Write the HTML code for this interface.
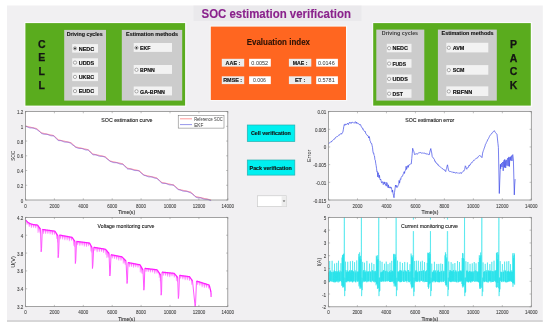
<!DOCTYPE html>
<html><head><meta charset="utf-8"><title>SOC estimation verification</title>
<style>html,body{margin:0;padding:0;background:#fff;}body{width:550px;height:330px;overflow:hidden;}svg{display:block;filter:blur(0.3px);}</style>
</head><body>
<svg width="550" height="330" viewBox="0 0 550 330" font-family="'Liberation Sans', Arial, sans-serif"><rect x="0.00" y="0.00" width="550.00" height="330.00" fill="#ffffff" />
<rect x="7.00" y="5.50" width="535.80" height="315.80" fill="#f1f0f2" />
<line x1="7" y1="321.2" x2="542.8" y2="321.2" stroke="#8a8a8a" stroke-width="0.8"/>
<rect x="193.50" y="5.60" width="168.00" height="15.40" fill="#eae9ec" />
<text x="201.50" y="17.50" font-size="12.1" fill="#8a228c" font-weight="bold" text-anchor="start" stroke="#8a228c" stroke-width="0.12" textLength="149.40" lengthAdjust="spacingAndGlyphs">SOC estimation verification</text>
<rect x="24.40" y="22.00" width="162.00" height="84.80" fill="#fbfbfb" />
<rect x="25.40" y="23.10" width="159.70" height="82.50" fill="#5aac1e" />
<text x="41.80" y="47.70" font-size="10.5" fill="#141414" font-weight="bold" text-anchor="middle" stroke="#141414" stroke-width="0.25">C</text>
<text x="41.80" y="61.40" font-size="10.5" fill="#141414" font-weight="bold" text-anchor="middle" stroke="#141414" stroke-width="0.25">E</text>
<text x="41.80" y="75.10" font-size="10.5" fill="#141414" font-weight="bold" text-anchor="middle" stroke="#141414" stroke-width="0.25">L</text>
<text x="41.80" y="88.80" font-size="10.5" fill="#141414" font-weight="bold" text-anchor="middle" stroke="#141414" stroke-width="0.25">L</text>
<rect x="64.20" y="29.90" width="41.80" height="70.70" fill="#cccccc" />
<text x="66.70" y="35.80" font-size="5.4" fill="#141414" font-weight="bold" text-anchor="start" stroke="#141414" stroke-width="0.12" textLength="36.00" lengthAdjust="spacingAndGlyphs">Driving cycles</text>
<rect x="72.20" y="44.10" width="25.80" height="8.50" fill="#f2f2f2" />
<circle cx="75.0" cy="48.4" r="1.65" fill="#fbfbfb" stroke="#5e5e5e" stroke-width="0.5"/>
<circle cx="75.0" cy="48.4" r="0.85" fill="#111"/>
<text x="78.70" y="50.50" font-size="5.6" fill="#141414" font-weight="bold" text-anchor="start" stroke="#141414" stroke-width="0.18" textLength="15.50" lengthAdjust="spacingAndGlyphs">NEDC</text>
<rect x="72.20" y="58.30" width="25.80" height="8.50" fill="#f2f2f2" />
<circle cx="75.0" cy="62.599999999999994" r="1.65" fill="#fbfbfb" stroke="#5e5e5e" stroke-width="0.5"/>
<text x="78.70" y="64.70" font-size="5.6" fill="#141414" font-weight="bold" text-anchor="start" stroke="#141414" stroke-width="0.18" textLength="15.50" lengthAdjust="spacingAndGlyphs">UDDS</text>
<rect x="72.20" y="72.60" width="25.80" height="8.50" fill="#f2f2f2" />
<circle cx="75.0" cy="76.89999999999999" r="1.65" fill="#fbfbfb" stroke="#5e5e5e" stroke-width="0.5"/>
<text x="78.70" y="79.00" font-size="5.6" fill="#141414" font-weight="bold" text-anchor="start" stroke="#141414" stroke-width="0.18" textLength="15.50" lengthAdjust="spacingAndGlyphs">UKBC</text>
<rect x="72.20" y="86.80" width="25.80" height="8.50" fill="#f2f2f2" />
<circle cx="75.0" cy="91.1" r="1.65" fill="#fbfbfb" stroke="#5e5e5e" stroke-width="0.5"/>
<text x="78.70" y="93.20" font-size="5.6" fill="#141414" font-weight="bold" text-anchor="start" stroke="#141414" stroke-width="0.18" textLength="15.50" lengthAdjust="spacingAndGlyphs">EUDC</text>
<rect x="121.80" y="29.90" width="60.40" height="70.70" fill="#cccccc" />
<text x="126.00" y="35.80" font-size="5.4" fill="#141414" font-weight="bold" text-anchor="start" stroke="#141414" stroke-width="0.12" textLength="52.00" lengthAdjust="spacingAndGlyphs">Estimation methods</text>
<rect x="133.70" y="43.00" width="38.30" height="8.90" fill="#f2f2f2" />
<circle cx="136.5" cy="47.8" r="1.65" fill="#fbfbfb" stroke="#5e5e5e" stroke-width="0.5"/>
<circle cx="136.5" cy="47.8" r="0.85" fill="#111"/>
<text x="140.10" y="50.00" font-size="5.6" fill="#141414" font-weight="bold" text-anchor="start" stroke="#141414" stroke-width="0.18" textLength="10.40" lengthAdjust="spacingAndGlyphs">EKF</text>
<rect x="133.70" y="65.00" width="38.30" height="8.90" fill="#f2f2f2" />
<circle cx="136.5" cy="69.8" r="1.65" fill="#fbfbfb" stroke="#5e5e5e" stroke-width="0.5"/>
<text x="140.10" y="72.00" font-size="5.6" fill="#141414" font-weight="bold" text-anchor="start" stroke="#141414" stroke-width="0.18" textLength="14.60" lengthAdjust="spacingAndGlyphs">BPNN</text>
<rect x="133.70" y="86.50" width="38.30" height="8.90" fill="#f2f2f2" />
<circle cx="136.5" cy="91.3" r="1.65" fill="#fbfbfb" stroke="#5e5e5e" stroke-width="0.5"/>
<text x="140.10" y="93.50" font-size="5.6" fill="#141414" font-weight="bold" text-anchor="start" stroke="#141414" stroke-width="0.18" textLength="24.80" lengthAdjust="spacingAndGlyphs">GA-BPNN</text>
<rect x="209.80" y="25.60" width="137.40" height="75.20" fill="#fbfbfb" />
<rect x="210.80" y="26.60" width="135.20" height="73.40" fill="#ff6620" />
<text x="246.70" y="45.20" font-size="8.8" fill="#2a1206" font-weight="bold" text-anchor="start" stroke="#2a1206" stroke-width="0.1" textLength="63.30" lengthAdjust="spacingAndGlyphs">Evaluation index</text>
<rect x="221.80" y="58.80" width="22.40" height="7.80" fill="#ececec" />
<text x="225.60" y="64.70" font-size="5.4" fill="#141414" font-weight="bold" text-anchor="start" stroke="#141414" stroke-width="0.15" textLength="14.80" lengthAdjust="spacingAndGlyphs">AAE :</text>
<rect x="249.10" y="58.80" width="21.70" height="7.80" fill="#ffffff" />
<text x="251.30" y="64.70" font-size="5.4" fill="#333" font-weight="normal" text-anchor="start"  textLength="16.90" lengthAdjust="spacingAndGlyphs">0.0052</text>
<rect x="288.90" y="58.80" width="22.40" height="7.80" fill="#ececec" />
<text x="292.70" y="64.70" font-size="5.4" fill="#141414" font-weight="bold" text-anchor="start" stroke="#141414" stroke-width="0.15" textLength="14.80" lengthAdjust="spacingAndGlyphs">MAE :</text>
<rect x="316.20" y="58.80" width="21.70" height="7.80" fill="#ffffff" />
<text x="318.00" y="64.70" font-size="5.4" fill="#333" font-weight="normal" text-anchor="start"  textLength="16.70" lengthAdjust="spacingAndGlyphs">0.0146</text>
<rect x="221.80" y="76.30" width="22.40" height="7.80" fill="#ececec" />
<text x="223.20" y="82.20" font-size="5.4" fill="#141414" font-weight="bold" text-anchor="start" stroke="#141414" stroke-width="0.15" textLength="19.00" lengthAdjust="spacingAndGlyphs">RMSE :</text>
<rect x="249.10" y="76.30" width="21.70" height="7.80" fill="#ffffff" />
<text x="252.90" y="82.20" font-size="5.4" fill="#333" font-weight="normal" text-anchor="start"  textLength="13.10" lengthAdjust="spacingAndGlyphs">0.006</text>
<rect x="288.90" y="76.30" width="22.40" height="7.80" fill="#ececec" />
<text x="294.90" y="82.20" font-size="5.4" fill="#141414" font-weight="bold" text-anchor="start" stroke="#141414" stroke-width="0.15" textLength="10.40" lengthAdjust="spacingAndGlyphs">ET :</text>
<rect x="316.20" y="76.30" width="21.70" height="7.80" fill="#ffffff" />
<text x="318.00" y="82.20" font-size="5.4" fill="#333" font-weight="normal" text-anchor="start"  textLength="16.70" lengthAdjust="spacingAndGlyphs">0.5781</text>
<rect x="372.20" y="22.00" width="160.00" height="84.80" fill="#fbfbfb" />
<rect x="373.20" y="23.10" width="157.60" height="82.50" fill="#5aac1e" />
<text x="513.60" y="48.00" font-size="10.5" fill="#141414" font-weight="bold" text-anchor="middle" stroke="#141414" stroke-width="0.25">P</text>
<text x="513.60" y="61.60" font-size="10.5" fill="#141414" font-weight="bold" text-anchor="middle" stroke="#141414" stroke-width="0.25">A</text>
<text x="513.60" y="75.20" font-size="10.5" fill="#141414" font-weight="bold" text-anchor="middle" stroke="#141414" stroke-width="0.25">C</text>
<text x="513.60" y="88.80" font-size="10.5" fill="#141414" font-weight="bold" text-anchor="middle" stroke="#141414" stroke-width="0.25">K</text>
<rect x="376.30" y="29.60" width="48.00" height="71.00" fill="#cccccc" />
<text x="381.80" y="35.20" font-size="5.7" fill="#3c3c3c" font-weight="bold" text-anchor="start"  textLength="36.30" lengthAdjust="spacingAndGlyphs">Driving cycles</text>
<rect x="386.80" y="43.80" width="24.70" height="8.50" fill="#f2f2f2" />
<circle cx="389.1" cy="48.199999999999996" r="1.65" fill="#fbfbfb" stroke="#5e5e5e" stroke-width="0.5"/>
<text x="392.50" y="50.20" font-size="5.6" fill="#141414" font-weight="bold" text-anchor="start" stroke="#141414" stroke-width="0.18" textLength="15.40" lengthAdjust="spacingAndGlyphs">NEDC</text>
<rect x="386.80" y="59.20" width="24.70" height="8.50" fill="#f2f2f2" />
<circle cx="389.1" cy="63.6" r="1.65" fill="#fbfbfb" stroke="#5e5e5e" stroke-width="0.5"/>
<text x="392.50" y="65.60" font-size="5.6" fill="#141414" font-weight="bold" text-anchor="start" stroke="#141414" stroke-width="0.18" textLength="13.50" lengthAdjust="spacingAndGlyphs">FUDS</text>
<rect x="386.80" y="74.50" width="24.70" height="8.50" fill="#f2f2f2" />
<circle cx="389.1" cy="78.9" r="1.65" fill="#fbfbfb" stroke="#5e5e5e" stroke-width="0.5"/>
<text x="392.50" y="80.90" font-size="5.6" fill="#141414" font-weight="bold" text-anchor="start" stroke="#141414" stroke-width="0.18" textLength="15.40" lengthAdjust="spacingAndGlyphs">UDDS</text>
<rect x="386.80" y="89.30" width="24.70" height="8.50" fill="#f2f2f2" />
<circle cx="389.1" cy="93.7" r="1.65" fill="#fbfbfb" stroke="#5e5e5e" stroke-width="0.5"/>
<text x="392.50" y="95.70" font-size="5.6" fill="#141414" font-weight="bold" text-anchor="start" stroke="#141414" stroke-width="0.18" textLength="10.40" lengthAdjust="spacingAndGlyphs">DST</text>
<rect x="437.90" y="29.60" width="58.90" height="71.00" fill="#cccccc" />
<text x="441.50" y="35.40" font-size="5.4" fill="#141414" font-weight="bold" text-anchor="start" stroke="#141414" stroke-width="0.12" textLength="52.10" lengthAdjust="spacingAndGlyphs">Estimation methods</text>
<rect x="446.30" y="42.80" width="42.00" height="9.60" fill="#f2f2f2" />
<circle cx="448.8" cy="47.8" r="1.65" fill="#fbfbfb" stroke="#5e5e5e" stroke-width="0.5"/>
<text x="452.70" y="50.00" font-size="5.6" fill="#141414" font-weight="bold" text-anchor="start" stroke="#141414" stroke-width="0.18" textLength="11.70" lengthAdjust="spacingAndGlyphs">AVM</text>
<rect x="446.30" y="65.10" width="42.00" height="9.60" fill="#f2f2f2" />
<circle cx="448.8" cy="70.1" r="1.65" fill="#fbfbfb" stroke="#5e5e5e" stroke-width="0.5"/>
<text x="452.70" y="72.30" font-size="5.6" fill="#141414" font-weight="bold" text-anchor="start" stroke="#141414" stroke-width="0.18" textLength="11.70" lengthAdjust="spacingAndGlyphs">SCM</text>
<rect x="446.30" y="86.40" width="42.00" height="9.60" fill="#f2f2f2" />
<circle cx="448.8" cy="91.4" r="1.65" fill="#fbfbfb" stroke="#5e5e5e" stroke-width="0.5"/>
<text x="452.70" y="93.60" font-size="5.6" fill="#141414" font-weight="bold" text-anchor="start" stroke="#141414" stroke-width="0.18" textLength="19.50" lengthAdjust="spacingAndGlyphs">RBFNN</text>
<rect x="247.30" y="125.00" width="47.50" height="16.50" fill="#00f0f0" stroke="#26b0b0" stroke-width="0.7"/>
<text x="250.90" y="135.25" font-size="5.6" fill="#141414" font-weight="bold" text-anchor="start" stroke="#141414" stroke-width="0.15" textLength="39.80" lengthAdjust="spacingAndGlyphs">Cell verification</text>
<rect x="247.30" y="160.00" width="47.50" height="15.10" fill="#00f0f0" stroke="#26b0b0" stroke-width="0.7"/>
<text x="249.60" y="169.55" font-size="5.6" fill="#141414" font-weight="bold" text-anchor="start" stroke="#141414" stroke-width="0.15" textLength="42.20" lengthAdjust="spacingAndGlyphs">Pack verification</text>
<rect x="257.40" y="195.80" width="29.30" height="10.90" fill="#ffffff" stroke="#c4c4c4" stroke-width="0.6"/>
<rect x="281.60" y="196.20" width="4.70" height="10.10" fill="#ececec" />
<path d="M282.7 200.6 L285.3 200.6 L284 202.1 Z" fill="#555"/>
<rect x="25.50" y="111.60" width="202.30" height="88.40" fill="#ffffff" />
<rect x="328.50" y="111.60" width="202.80" height="88.40" fill="#ffffff" />
<rect x="25.50" y="217.40" width="202.30" height="89.20" fill="#ffffff" />
<rect x="328.40" y="217.40" width="202.90" height="89.40" fill="#ffffff" />
<polyline points="25.60,126.18 25.85,126.22 26.10,126.26 26.35,126.31 26.60,126.37 26.85,126.42 27.10,126.48 27.35,126.53 27.60,126.59 27.85,126.64 28.10,126.70 28.35,126.75 28.60,126.81 28.85,126.86 29.10,126.92 29.35,126.97 29.60,127.03 29.85,127.08 30.10,127.14 30.35,127.19 30.60,127.25 30.85,127.30 31.10,127.36 31.35,127.41 31.60,127.47 31.85,127.52 32.10,127.58 32.35,127.63 32.60,127.69 32.85,127.74 33.10,127.80 33.35,127.85 33.60,127.91 33.85,127.96 34.10,128.01 34.35,128.07 34.60,128.12 34.85,128.18 35.10,128.23 35.35,128.29 35.60,128.34 35.85,128.40 36.10,128.45 36.35,128.54 36.60,128.67 36.85,128.83 37.10,129.02 37.35,129.25 37.60,129.47 37.85,129.70 38.10,129.93 38.35,130.15 38.60,130.38 38.85,130.61 39.10,130.84 39.35,131.06 39.60,131.29 39.85,131.52 40.10,131.74 40.35,131.97 40.60,132.20 40.85,132.43 41.10,132.62 41.35,132.78 41.60,132.90 41.85,132.99 42.10,133.05 42.35,133.10 42.60,133.16 42.85,133.21 43.10,133.27 43.35,133.32 43.60,133.37 43.85,133.43 44.10,133.48 44.35,133.54 44.60,133.59 44.85,133.65 45.10,133.70 45.35,133.76 45.60,133.81 45.85,133.87 46.10,133.92 46.35,133.98 46.60,134.03 46.85,134.09 47.10,134.14 47.35,134.20 47.60,134.25 47.85,134.31 48.10,134.36 48.35,134.42 48.60,134.47 48.85,134.53 49.10,134.58 49.35,134.64 49.60,134.69 49.85,134.75 50.10,134.80 50.35,134.86 50.60,134.91 50.85,134.97 51.10,135.02 51.35,135.08 51.60,135.13 51.85,135.18 52.10,135.24 52.35,135.29 52.60,135.35 52.85,135.40 53.10,135.46 53.35,135.55 53.60,135.67 53.85,135.83 54.10,136.02 54.35,136.25 54.60,136.48 54.85,136.71 55.10,136.93 55.35,137.16 55.60,137.39 55.85,137.61 56.10,137.84 56.35,138.07 56.60,138.30 56.85,138.52 57.10,138.75 57.35,138.98 57.60,139.20 57.85,139.43 58.10,139.62 58.35,139.78 58.60,139.91 58.85,140.00 59.10,140.05 59.35,140.11 59.60,140.16 59.85,140.22 60.10,140.27 60.35,140.33 60.60,140.38 60.85,140.44 61.10,140.49 61.35,140.54 61.60,140.60 61.85,140.65 62.10,140.71 62.35,140.76 62.60,140.82 62.85,140.87 63.10,140.93 63.35,140.98 63.60,141.04 63.85,141.09 64.10,141.15 64.35,141.20 64.60,141.26 64.85,141.31 65.10,141.37 65.35,141.42 65.60,141.48 65.85,141.53 66.10,141.59 66.35,141.64 66.60,141.70 66.85,141.75 67.10,141.81 67.35,141.86 67.60,141.92 67.85,141.97 68.10,142.03 68.35,142.08 68.60,142.14 68.85,142.19 69.10,142.25 69.35,142.30 69.60,142.35 69.85,142.41 70.10,142.46 70.35,142.52 70.60,142.61 70.85,142.73 71.10,142.89 71.35,143.08 71.60,143.31 71.85,143.54 72.10,143.77 72.35,143.99 72.60,144.22 72.85,144.45 73.10,144.67 73.35,144.90 73.60,145.13 73.85,145.36 74.10,145.58 74.35,145.81 74.60,146.04 74.85,146.27 75.10,146.49 75.35,146.69 75.60,146.84 75.85,146.97 76.10,147.06 76.35,147.11 76.60,147.17 76.85,147.22 77.10,147.28 77.35,147.33 77.60,147.39 77.85,147.44 78.10,147.50 78.35,147.55 78.60,147.61 78.85,147.66 79.10,147.71 79.35,147.77 79.60,147.82 79.85,147.88 80.10,147.93 80.35,147.99 80.60,148.04 80.85,148.10 81.10,148.15 81.35,148.21 81.60,148.26 81.85,148.32 82.10,148.37 82.35,148.43 82.60,148.48 82.85,148.54 83.10,148.59 83.35,148.65 83.60,148.70 83.85,148.76 84.10,148.81 84.35,148.87 84.60,148.92 84.85,148.98 85.10,149.03 85.35,149.09 85.60,149.14 85.85,149.20 86.10,149.25 86.35,149.31 86.60,149.36 86.85,149.42 87.10,149.47 87.35,149.52 87.60,149.58 87.85,149.67 88.10,149.79 88.35,149.95 88.60,150.14 88.85,150.37 89.10,150.60 89.35,150.83 89.60,151.05 89.85,151.28 90.10,151.51 90.35,151.73 90.60,151.96 90.85,152.19 91.10,152.42 91.35,152.64 91.60,152.87 91.85,153.10 92.10,153.33 92.35,153.55 92.60,153.75 92.85,153.90 93.10,154.03 93.35,154.12 93.60,154.17 93.85,154.23 94.10,154.28 94.35,154.34 94.60,154.39 94.85,154.45 95.10,154.50 95.35,154.56 95.60,154.61 95.85,154.67 96.10,154.72 96.35,154.78 96.60,154.83 96.85,154.88 97.10,154.94 97.35,154.99 97.60,155.05 97.85,155.10 98.10,155.16 98.35,155.21 98.60,155.27 98.85,155.32 99.10,155.38 99.35,155.43 99.60,155.49 99.85,155.54 100.10,155.60 100.35,155.65 100.60,155.71 100.85,155.76 101.10,155.82 101.35,155.87 101.60,155.93 101.85,155.98 102.10,156.04 102.35,156.09 102.60,156.15 102.85,156.20 103.10,156.26 103.35,156.31 103.60,156.37 103.85,156.42 104.10,156.48 104.35,156.53 104.60,156.59 104.85,156.64 105.10,156.73 105.35,156.85 105.60,157.01 105.85,157.20 106.10,157.43 106.35,157.66 106.60,157.89 106.85,158.11 107.10,158.34 107.35,158.57 107.60,158.80 107.85,159.02 108.10,159.25 108.35,159.48 108.60,159.70 108.85,159.93 109.10,160.16 109.35,160.39 109.60,160.61 109.85,160.81 110.10,160.96 110.35,161.09 110.60,161.18 110.85,161.23 111.10,161.29 111.35,161.34 111.60,161.40 111.85,161.45 112.10,161.51 112.35,161.56 112.60,161.62 112.85,161.67 113.10,161.73 113.35,161.78 113.60,161.84 113.85,161.89 114.10,161.95 114.35,162.00 114.60,162.05 114.85,162.11 115.10,162.16 115.35,162.22 115.60,162.27 115.85,162.33 116.10,162.38 116.35,162.44 116.60,162.49 116.85,162.55 117.10,162.60 117.35,162.66 117.60,162.71 117.85,162.77 118.10,162.82 118.35,162.88 118.60,162.93 118.85,162.99 119.10,163.04 119.35,163.10 119.60,163.15 119.85,163.21 120.10,163.26 120.35,163.32 120.60,163.37 120.85,163.43 121.10,163.48 121.35,163.54 121.60,163.59 121.85,163.65 122.10,163.70 122.35,163.79 122.60,163.91 122.85,164.07 123.10,164.26 123.35,164.49 123.60,164.72 123.85,164.95 124.10,165.17 124.35,165.40 124.60,165.63 124.85,165.86 125.10,166.08 125.35,166.31 125.60,166.54 125.85,166.76 126.10,166.99 126.35,167.22 126.60,167.45 126.85,167.67 127.10,167.87 127.35,168.02 127.60,168.15 127.85,168.24 128.10,168.29 128.35,168.35 128.60,168.40 128.85,168.46 129.10,168.51 129.35,168.57 129.60,168.62 129.85,168.68 130.10,168.73 130.35,168.79 130.60,168.84 130.85,168.90 131.10,168.95 131.35,169.01 131.60,169.06 131.85,169.12 132.10,169.17 132.35,169.22 132.60,169.28 132.85,169.33 133.10,169.39 133.35,169.44 133.60,169.50 133.85,169.55 134.10,169.61 134.35,169.66 134.60,169.72 134.85,169.77 135.10,169.83 135.35,169.88 135.60,169.94 135.85,169.99 136.10,170.05 136.35,170.10 136.60,170.16 136.85,170.21 137.10,170.27 137.35,170.32 137.60,170.38 137.85,170.43 138.10,170.49 138.35,170.54 138.60,170.60 138.85,170.65 139.10,170.74 139.35,170.86 139.60,171.02 139.85,171.22 140.10,171.44 140.35,171.67 140.60,171.90 140.85,172.12 141.10,172.35 141.35,172.58 141.60,172.81 141.85,173.03 142.10,173.26 142.35,173.49 142.60,173.71 142.85,173.94 143.10,174.17 143.35,174.40 143.60,174.62 143.85,174.82 144.10,174.97 144.35,175.10 144.60,175.19 144.85,175.24 145.10,175.30 145.35,175.35 145.60,175.41 145.85,175.46 146.10,175.52 146.35,175.57 146.60,175.63 146.85,175.68 147.10,175.74 147.35,175.79 147.60,175.85 147.85,175.90 148.10,175.96 148.35,176.01 148.60,176.07 148.85,176.12 149.10,176.18 149.35,176.23 149.60,176.29 149.85,176.34 150.10,176.39 150.35,176.45 150.60,176.50 150.85,176.56 151.10,176.61 151.35,176.67 151.60,176.72 151.85,176.78 152.10,176.83 152.35,176.89 152.60,176.94 152.85,177.00 153.10,177.05 153.35,177.11 153.60,177.16 153.85,177.22 154.10,177.27 154.35,177.33 154.60,177.38 154.85,177.44 155.10,177.49 155.35,177.55 155.60,177.60 155.85,177.66 156.10,177.71 156.35,177.80 156.60,177.92 156.85,178.08 157.10,178.28 157.35,178.50 157.60,178.73 157.85,178.96 158.10,179.18 158.35,179.41 158.60,179.64 158.85,179.87 159.10,180.09 159.35,180.32 159.60,180.55 159.85,180.78 160.10,181.00 160.35,181.23 160.60,181.46 160.85,181.68 161.10,181.91 161.35,182.10 161.60,182.26 161.85,182.39 162.10,182.48 162.35,182.53 162.60,182.59 162.85,182.64 163.10,182.69 163.35,182.75 163.60,182.80 163.85,182.86 164.10,182.91 164.35,182.97 164.60,183.02 164.85,183.08 165.10,183.13 165.35,183.19 165.60,183.24 165.85,183.30 166.10,183.35 166.35,183.41 166.60,183.46 166.85,183.52 167.10,183.57 167.35,183.63 167.60,183.68 167.85,183.74 168.10,183.79 168.35,183.85 168.60,183.90 168.85,183.96 169.10,184.01 169.35,184.07 169.60,184.12 169.85,184.18 170.10,184.23 170.35,184.29 170.60,184.34 170.85,184.40 171.10,184.45 171.35,184.51 171.60,184.56 171.85,184.61 172.10,184.67 172.35,184.72 172.60,184.78 172.85,184.83 173.10,184.89 173.35,184.94 173.60,185.03 173.85,185.16 174.10,185.32 174.35,185.51 174.60,185.74 174.85,185.96 175.10,186.19 175.35,186.42 175.60,186.64 175.85,186.87 176.10,187.10 176.35,187.33 176.60,187.55 176.85,187.78 177.10,188.01 177.35,188.24 177.60,188.46 177.85,188.69 178.10,188.92 178.35,189.11 178.60,189.27 178.85,189.39 179.10,189.48 179.35,189.54 179.60,189.59 179.85,189.65 180.10,189.70 180.35,189.76 180.60,189.81 180.85,189.86 181.10,189.92 181.35,189.97 181.60,190.03 181.85,190.08 182.10,190.14 182.35,190.19 182.60,190.25 182.85,190.30 183.10,190.36 183.35,190.41 183.60,190.47 183.85,190.52 184.10,190.58 184.35,190.63 184.60,190.69 184.85,190.74 185.10,190.80 185.35,190.85 185.60,190.91 185.85,190.96 186.10,191.02 186.35,191.07 186.60,191.13 186.85,191.18 187.10,191.24 187.35,191.29 187.60,191.35 187.85,191.40 188.10,191.46 188.35,191.51 188.60,191.57 188.85,191.62 189.10,191.68 189.35,191.73 189.60,191.78 189.85,191.84 190.10,191.89 190.35,191.98 190.60,192.11 190.85,192.27 191.10,192.46 191.35,192.69 191.60,192.91 191.85,193.14 192.10,193.37 192.35,193.59 192.60,193.82 192.85,194.05 193.10,194.28 193.35,194.50 193.60,194.73 193.85,194.96 194.10,195.19 194.35,195.41 194.60,195.64 194.85,195.87 195.10,196.09 195.35,196.29 195.60,196.45 195.85,196.57 196.10,196.66 196.35,196.71 196.60,196.77 196.85,196.82 197.10,196.88 197.35,196.93 197.60,196.99 197.85,197.04 198.10,197.10 198.35,197.15 198.60,197.21 198.85,197.26 199.10,197.32 199.35,197.37 199.60,197.43 199.85,197.48 200.10,197.54 200.35,197.59 200.60,197.65 200.85,197.70 201.10,197.76 201.35,197.81 201.60,197.87 201.85,197.92 202.10,197.98 202.35,198.03 202.60,198.09 202.85,198.14 203.10,198.19 203.35,198.25 203.60,198.30 203.85,198.36 204.10,198.41 204.35,198.47 204.60,198.52 204.85,198.58 205.10,198.63 205.35,198.69 205.60,198.74 205.85,198.80 206.10,198.85 206.35,198.91 206.60,198.96 206.85,199.02 207.10,199.07 207.35,199.13 207.60,199.18 207.85,199.24 208.10,199.29 208.35,199.35 208.60,199.40 208.85,199.46 209.10,199.51 209.35,199.57 209.60,199.62 209.85,199.68 210.10,199.73 210.35,199.79 210.60,199.84 210.85,199.88 211.10,199.92" fill="none" stroke="#ff7a8a" stroke-width="1.0"/>
<polyline points="25.60,126.47 25.85,126.48 26.10,126.51 26.35,126.57 26.60,126.64 26.85,126.72 27.10,126.81 27.35,126.91 27.60,127.02 27.85,127.13 28.10,127.24 28.35,127.35 28.60,127.45 28.85,127.55 29.10,127.64 29.35,127.71 29.60,127.78 29.85,127.83 30.10,127.87 30.35,127.90 30.60,127.91 30.85,127.92 31.10,127.93 31.35,127.93 31.60,127.93 31.85,127.93 32.10,127.93 32.35,127.94 32.60,127.97 32.85,128.00 33.10,128.05 33.35,128.10 33.60,128.17 33.85,128.26 34.10,128.35 34.35,128.45 34.60,128.56 34.85,128.67 35.10,128.78 35.35,128.89 35.60,128.99 35.85,129.09 36.10,129.17 36.35,129.28 36.60,129.42 36.85,129.57 37.10,129.75 37.35,129.95 37.60,130.14 37.85,130.32 38.10,130.49 38.35,130.66 38.60,130.84 38.85,131.01 39.10,131.19 39.35,131.37 39.60,131.57 39.85,131.78 40.10,132.00 40.35,132.23 40.60,132.47 40.85,132.73 41.10,132.96 41.35,133.16 41.60,133.34 41.85,133.48 42.10,133.59 42.35,133.70 42.60,133.80 42.85,133.90 43.10,133.99 43.35,134.06 43.60,134.12 43.85,134.17 44.10,134.21 44.35,134.24 44.60,134.26 44.85,134.26 45.10,134.27 45.35,134.27 45.60,134.26 45.85,134.27 46.10,134.27 46.35,134.29 46.60,134.31 46.85,134.35 47.10,134.39 47.35,134.45 47.60,134.53 47.85,134.61 48.10,134.70 48.35,134.80 48.60,134.91 48.85,135.02 49.10,135.13 49.35,135.24 49.60,135.34 49.85,135.44 50.10,135.52 50.35,135.60 50.60,135.66 50.85,135.71 51.10,135.75 51.35,135.77 51.60,135.79 51.85,135.80 52.10,135.80 52.35,135.80 52.60,135.80 52.85,135.80 53.10,135.80 53.35,135.85 53.60,135.95 53.85,136.09 54.10,136.27 54.35,136.51 54.60,136.75 54.85,137.01 55.10,137.28 55.35,137.55 55.60,137.83 55.85,138.11 56.10,138.40 56.35,138.68 56.60,138.95 56.85,139.22 57.10,139.48 57.35,139.72 57.60,139.95 57.85,140.18 58.10,140.35 58.35,140.48 58.60,140.56 58.85,140.60 59.10,140.61 59.35,140.60 59.60,140.60 59.85,140.61 60.10,140.61 60.35,140.63 60.60,140.65 60.85,140.69 61.10,140.74 61.35,140.80 61.60,140.88 61.85,140.96 62.10,141.06 62.35,141.16 62.60,141.27 62.85,141.38 63.10,141.49 63.35,141.60 63.60,141.70 63.85,141.79 64.10,141.88 64.35,141.95 64.60,142.01 64.85,142.06 65.10,142.09 65.35,142.11 65.60,142.13 65.85,142.14 66.10,142.14 66.35,142.14 66.60,142.13 66.85,142.14 67.10,142.15 67.35,142.16 67.60,142.19 67.85,142.23 68.10,142.28 68.35,142.34 68.60,142.41 68.85,142.50 69.10,142.60 69.35,142.70 69.60,142.81 69.85,142.92 70.10,143.03 70.35,143.14 70.60,143.27 70.85,143.43 71.10,143.62 71.35,143.83 71.60,144.06 71.85,144.28 72.10,144.49 72.35,144.68 72.60,144.87 72.85,145.05 73.10,145.22 73.35,145.39 73.60,145.56 73.85,145.74 74.10,145.92 74.35,146.11 74.60,146.31 74.85,146.52 75.10,146.74 75.35,146.94 75.60,147.12 75.85,147.28 76.10,147.41 76.35,147.51 76.60,147.62 76.85,147.73 77.10,147.84 77.35,147.95 77.60,148.05 77.85,148.14 78.10,148.23 78.35,148.30 78.60,148.35 78.85,148.40 79.10,148.43 79.35,148.46 79.60,148.47 79.85,148.47 80.10,148.48 80.35,148.47 80.60,148.47 80.85,148.48 81.10,148.49 81.35,148.50 81.60,148.53 81.85,148.57 82.10,148.62 82.35,148.69 82.60,148.76 82.85,148.85 83.10,148.95 83.35,149.05 83.60,149.16 83.85,149.27 84.10,149.38 84.35,149.49 84.60,149.59 84.85,149.68 85.10,149.76 85.35,149.83 85.60,149.89 85.85,149.93 86.10,149.97 86.35,149.99 86.60,150.00 86.85,150.01 87.10,150.01 87.35,150.01 87.60,150.01 87.85,150.04 88.10,150.12 88.35,150.24 88.60,150.41 88.85,150.62 89.10,150.85 89.35,151.09 89.60,151.34 89.85,151.60 90.10,151.87 90.35,152.15 90.60,152.43 90.85,152.71 91.10,152.99 91.35,153.27 91.60,153.54 91.85,153.81 92.10,154.06 92.35,154.30 92.60,154.49 92.85,154.64 93.10,154.74 93.35,154.80 93.60,154.81 93.85,154.81 94.10,154.81 94.35,154.81 94.60,154.81 94.85,154.82 95.10,154.83 95.35,154.85 95.60,154.88 95.85,154.92 96.10,154.97 96.35,155.04 96.60,155.12 96.85,155.21 97.10,155.30 97.35,155.41 97.60,155.52 97.85,155.63 98.10,155.74 98.35,155.84 98.60,155.94 98.85,156.03 99.10,156.11 99.35,156.18 99.60,156.24 99.85,156.28 100.10,156.31 100.35,156.33 100.60,156.34 100.85,156.35 101.10,156.35 101.35,156.35 101.60,156.35 101.85,156.35 102.10,156.36 102.35,156.38 102.60,156.41 102.85,156.45 103.10,156.51 103.35,156.58 103.60,156.65 103.85,156.74 104.10,156.84 104.35,156.95 104.60,157.06 104.85,157.17 105.10,157.31 105.35,157.49 105.60,157.69 105.85,157.92 106.10,158.17 106.35,158.41 106.60,158.63 106.85,158.85 107.10,159.05 107.35,159.24 107.60,159.43 107.85,159.60 108.10,159.77 108.35,159.95 108.60,160.12 108.85,160.30 109.10,160.48 109.35,160.67 109.60,160.88 109.85,161.06 110.10,161.22 110.35,161.35 110.60,161.47 110.85,161.56 111.10,161.66 111.35,161.76 111.60,161.87 111.85,161.98 112.10,162.09 112.35,162.20 112.60,162.30 112.85,162.39 113.10,162.46 113.35,162.53 113.60,162.58 113.85,162.62 114.10,162.65 114.35,162.67 114.60,162.68 114.85,162.69 115.10,162.69 115.35,162.68 115.60,162.68 115.85,162.69 116.10,162.70 116.35,162.72 116.60,162.76 116.85,162.80 117.10,162.86 117.35,162.93 117.60,163.01 117.85,163.10 118.10,163.20 118.35,163.30 118.60,163.41 118.85,163.52 119.10,163.63 119.35,163.74 119.60,163.84 119.85,163.92 120.10,164.00 120.35,164.07 120.60,164.12 120.85,164.16 121.10,164.19 121.35,164.20 121.60,164.21 121.85,164.22 122.10,164.22 122.35,164.25 122.60,164.32 122.85,164.43 123.10,164.58 123.35,164.77 123.60,164.98 123.85,165.20 124.10,165.43 124.35,165.67 124.60,165.92 124.85,166.19 125.10,166.46 125.35,166.74 125.60,167.02 125.85,167.31 126.10,167.59 126.35,167.86 126.60,168.13 126.85,168.39 127.10,168.61 127.35,168.77 127.60,168.89 127.85,168.97 128.10,169.00 128.35,169.01 128.60,169.02 128.85,169.02 129.10,169.02 129.35,169.02 129.60,169.02 129.85,169.03 130.10,169.04 130.35,169.07 130.60,169.10 130.85,169.15 131.10,169.20 131.35,169.28 131.60,169.36 131.85,169.45 132.10,169.55 132.35,169.66 132.60,169.77 132.85,169.88 133.10,169.99 133.35,170.09 133.60,170.19 133.85,170.27 134.10,170.35 134.35,170.41 134.60,170.46 134.85,170.50 135.10,170.53 135.35,170.55 135.60,170.55 135.85,170.56 136.10,170.56 136.35,170.55 136.60,170.56 136.85,170.56 137.10,170.58 137.35,170.60 137.60,170.63 137.85,170.68 138.10,170.74 138.35,170.81 138.60,170.90 138.85,170.99 139.10,171.13 139.35,171.30 139.60,171.52 139.85,171.77 140.10,172.05 140.35,172.32 140.60,172.59 140.85,172.85 141.10,173.09 141.35,173.33 141.60,173.55 141.85,173.76 142.10,173.96 142.35,174.15 142.60,174.33 142.85,174.50 143.10,174.67 143.35,174.84 143.60,175.02 143.85,175.16 144.10,175.28 144.35,175.37 144.60,175.44 144.85,175.49 145.10,175.55 145.35,175.63 145.60,175.71 145.85,175.80 146.10,175.91 146.35,176.01 146.60,176.13 146.85,176.24 147.10,176.34 147.35,176.45 147.60,176.54 147.85,176.63 148.10,176.70 148.35,176.76 148.60,176.81 148.85,176.85 149.10,176.87 149.35,176.89 149.60,176.89 149.85,176.90 150.10,176.89 150.35,176.89 150.60,176.90 150.85,176.90 151.10,176.92 151.35,176.94 151.60,176.98 151.85,177.03 152.10,177.09 152.35,177.16 152.60,177.25 152.85,177.34 153.10,177.45 153.35,177.55 153.60,177.67 153.85,177.78 154.10,177.88 154.35,177.99 154.60,178.08 154.85,178.16 155.10,178.24 155.35,178.30 155.60,178.34 155.85,178.38 156.10,178.40 156.35,178.45 156.60,178.53 156.85,178.63 157.10,178.77 157.35,178.94 157.60,179.12 157.85,179.30 158.10,179.49 158.35,179.68 158.60,179.89 158.85,180.12 159.10,180.35 159.35,180.60 159.60,180.86 159.85,181.12 160.10,181.40 160.35,181.68 160.60,181.96 160.85,182.25 161.10,182.53 161.35,182.77 161.60,182.96 161.85,183.11 162.10,183.22 162.35,183.28 162.60,183.33 162.85,183.36 163.10,183.39 163.35,183.40 163.60,183.41 163.85,183.41 164.10,183.41 164.35,183.40 164.60,183.41 164.85,183.42 165.10,183.43 165.35,183.46 165.60,183.50 165.85,183.55 166.10,183.61 166.35,183.69 166.60,183.77 166.85,183.87 167.10,183.97 167.35,184.08 167.60,184.19 167.85,184.30 168.10,184.41 168.35,184.51 168.60,184.60 168.85,184.69 169.10,184.76 169.35,184.82 169.60,184.86 169.85,184.90 170.10,184.92 170.35,184.93 170.60,184.94 170.85,184.94 171.10,184.94 171.35,184.94 171.60,184.94 171.85,184.95 172.10,184.97 172.35,184.99 172.60,185.03 172.85,185.08 173.10,185.15 173.35,185.23 173.60,185.35 173.85,185.51 174.10,185.72 174.35,185.97 174.60,186.25 174.85,186.53 175.10,186.81 175.35,187.08 175.60,187.35 175.85,187.60 176.10,187.85 176.35,188.08 176.60,188.29 176.85,188.50 177.10,188.69 177.35,188.88 177.60,189.06 177.85,189.23 178.10,189.40 178.35,189.54 178.60,189.64 178.85,189.72 179.10,189.77 179.35,189.80 179.60,189.84 179.85,189.90 180.10,189.96 180.35,190.04 180.60,190.13 180.85,190.22 181.10,190.33 181.35,190.44 181.60,190.55 181.85,190.66 182.10,190.77 182.35,190.86 182.60,190.96 182.85,191.04 183.10,191.11 183.35,191.16 183.60,191.21 183.85,191.24 184.10,191.26 184.35,191.27 184.60,191.28 184.85,191.28 185.10,191.28 185.35,191.28 185.60,191.28 185.85,191.29 186.10,191.31 186.35,191.34 186.60,191.38 186.85,191.43 187.10,191.50 187.35,191.58 187.60,191.67 187.85,191.76 188.10,191.87 188.35,191.98 188.60,192.09 188.85,192.20 189.10,192.30 189.35,192.40 189.60,192.49 189.85,192.57 190.10,192.64 190.35,192.73 190.60,192.84 190.85,192.98 191.10,193.14 191.35,193.32 191.60,193.50 191.85,193.67 192.10,193.84 192.35,194.01 192.60,194.19 192.85,194.37 193.10,194.57 193.35,194.77 193.60,194.98 193.85,195.21 194.10,195.45 194.35,195.70 194.60,195.96 194.85,196.23 195.10,196.51 195.35,196.76 195.60,196.97 195.85,197.15 196.10,197.29 196.35,197.39 196.60,197.48 196.85,197.56 197.10,197.63 197.35,197.68 197.60,197.72 197.85,197.75 198.10,197.77 198.35,197.78 198.60,197.79 198.85,197.79 199.10,197.79 199.35,197.79 199.60,197.79 199.85,197.80 200.10,197.82 200.35,197.85 200.60,197.90 200.85,197.95 201.10,198.02 201.35,198.10 201.60,198.19 201.85,198.29 202.10,198.40 202.35,198.51 202.60,198.62 202.85,198.73 203.10,198.83 203.35,198.93 203.60,199.02 203.85,199.10 204.10,199.16 204.35,199.22 204.60,199.26 204.85,199.29 205.10,199.31 205.35,199.32 205.60,199.32 205.85,199.32 206.10,199.32 206.35,199.32 206.60,199.32 206.85,199.34 207.10,199.36 207.35,199.39 207.60,199.43 207.85,199.49 208.10,199.56 208.35,199.64 208.60,199.73 208.85,199.83 209.10,199.94 209.35,200.05 209.60,200.16 209.85,200.27 210.10,200.37 210.35,200.47 210.60,200.56 210.85,200.62 211.10,200.67" fill="none" stroke="#6a50e0" stroke-width="0.75" stroke-opacity="0.85"/>
<polyline points="328.50,143.90 328.90,143.66 329.30,143.16 329.70,142.64 330.10,142.44 330.50,141.95 330.90,141.94 331.30,141.99 331.70,141.11 332.10,140.74 332.50,140.75 332.90,140.38 333.30,139.97 333.70,139.33 334.10,139.27 334.50,139.16 334.90,138.22 335.30,138.15 335.70,137.39 336.10,137.24 336.50,136.75 336.92,136.90 337.34,136.27 337.76,136.40 338.18,136.04 338.60,135.61 339.02,134.58 339.44,134.85 339.86,134.67 340.28,134.41 340.70,133.82 341.12,133.34 341.54,134.22 341.96,133.45 342.38,132.68 342.80,132.43 343.30,129.80 343.80,126.44 344.30,124.55 344.77,125.37 345.23,123.89 345.70,124.66 346.13,124.57 346.57,124.42 347.00,123.67 347.43,123.62 347.87,123.16 348.30,124.66 348.73,123.92 349.17,122.91 349.60,122.23 350.03,122.94 350.47,123.15 350.90,122.53 351.31,123.37 351.71,122.53 352.12,122.60 352.53,122.14 352.94,122.43 353.34,122.91 353.75,122.90 354.16,123.06 354.56,122.83 354.97,122.71 355.38,121.63 355.79,122.12 356.19,123.52 356.60,122.22 357.04,123.05 357.48,123.07 357.92,123.72 358.36,123.78 358.80,123.68 359.24,124.09 359.68,124.90 360.12,124.87 360.56,124.57 361.00,125.96 361.43,126.90 361.86,127.58 362.29,128.31 362.72,127.99 363.15,130.05 363.58,130.00 364.01,130.40 364.44,131.32 364.87,131.92 365.30,131.47 365.73,133.40 366.16,134.18 366.59,134.35 367.02,135.33 367.45,135.54 367.88,135.51 368.31,136.25 368.74,138.04 369.17,136.48 369.60,138.04 370.01,140.91 370.43,141.34 370.84,143.03 371.26,143.54 371.67,143.48 372.09,145.56 372.50,147.36 372.90,151.13 373.30,153.22 373.70,152.96 374.10,155.59 374.50,155.94 374.90,159.60 375.30,160.13 375.71,163.29 376.13,165.52 376.54,168.29 376.96,172.06 377.37,171.63 377.79,176.92 378.20,172.67 378.61,174.51 379.03,177.76 379.44,175.25 379.86,178.87 380.27,179.89 380.69,179.06 381.10,180.73 381.53,182.74 381.96,182.85 382.39,181.80 382.82,181.76 383.25,184.61 383.68,183.69 384.11,181.84 384.54,183.63 384.97,182.23 385.40,185.09 385.83,184.59 386.26,186.17 386.69,182.43 387.12,183.00 387.55,184.83 387.98,187.54 388.41,184.82 388.84,187.88 389.27,186.87 389.70,187.15 390.11,188.26 390.53,186.85 390.94,187.78 391.36,187.57 391.77,189.59 392.19,192.17 392.60,190.04 393.07,193.42 393.53,195.63 394.00,197.72 394.50,192.54 395.00,188.96 395.50,185.07 395.90,186.48 396.30,185.41 396.70,187.44 397.10,187.37 397.50,187.19 397.91,185.84 398.32,185.03 398.73,184.38 399.14,180.41 399.56,183.10 399.97,180.82 400.38,178.82 400.79,179.35 401.20,177.42 401.61,176.97 402.03,175.97 402.44,176.14 402.86,175.18 403.27,173.74 403.69,173.42 404.10,171.76 404.51,173.44 404.93,170.94 405.34,170.64 405.76,168.78 406.17,166.22 406.59,169.44 407.00,167.94 407.43,166.91 407.86,165.56 408.29,167.39 408.72,165.03 409.15,164.95 409.58,164.76 410.01,164.73 410.44,164.03 410.87,163.56 411.30,163.76 411.77,158.58 412.23,153.62 412.70,148.29 413.12,150.08 413.54,150.54 413.96,151.86 414.38,153.70 414.80,154.81 415.23,154.39 415.67,153.75 416.10,153.99 416.53,153.73 416.97,153.96 417.40,154.28 417.83,153.50 418.27,153.03 418.70,152.75 419.13,152.92 419.57,152.71 420.00,152.25 420.41,152.71 420.81,152.41 421.22,153.17 421.63,153.23 422.04,153.32 422.44,152.93 422.85,153.30 423.26,153.19 423.66,153.19 424.07,153.28 424.48,153.07 424.89,153.11 425.29,153.86 425.70,153.64 426.10,153.86 426.50,154.20 426.90,153.48 427.30,153.86 427.70,154.25 428.10,154.42 428.50,154.29 428.90,154.81 429.30,154.66 429.80,152.14 430.30,150.12 430.80,148.54 431.27,151.04 431.73,152.93 432.20,156.50 432.63,157.00 433.06,157.94 433.49,158.14 433.92,158.89 434.35,159.36 434.78,161.18 435.21,161.09 435.64,162.34 436.07,162.39 436.50,163.35 436.93,163.23 437.36,164.05 437.79,164.89 438.22,164.64 438.65,165.77 439.08,165.98 439.51,166.00 439.94,166.59 440.37,167.03 440.80,167.59 441.21,167.75 441.62,167.97 442.02,168.43 442.43,168.53 442.84,168.75 443.25,169.44 443.66,170.02 444.07,169.61 444.48,170.38 444.88,170.49 445.29,170.70 445.70,171.56 446.15,169.49 446.60,168.45 447.05,166.12 447.50,164.82 448.05,167.78 448.60,170.77 449.03,171.33 449.47,171.25 449.90,171.63 450.33,171.59 450.77,171.42 451.20,171.87 451.63,172.07 452.07,172.49 452.50,172.08 452.93,172.49 453.37,172.13 453.80,173.00 454.22,172.50 454.65,172.32 455.07,172.87 455.49,173.25 455.92,172.49 456.34,172.65 456.76,172.78 457.19,172.70 457.61,173.18 458.04,172.85 458.46,172.91 458.88,173.33 459.31,172.96 459.73,173.34 460.15,172.95 460.58,172.91 461.00,172.75 461.41,173.48 461.82,172.45 462.23,172.24 462.64,171.78 463.06,171.46 463.47,171.05 463.88,171.23 464.29,169.97 464.70,169.43 465.30,165.80 465.80,166.67 466.30,168.26 466.80,169.25 467.21,168.20 467.61,167.55 468.02,167.35 468.43,167.36 468.84,165.58 469.24,166.07 469.65,165.08 470.06,165.20 470.46,164.05 470.87,163.77 471.28,162.89 471.69,162.54 472.09,162.73 472.50,162.05 472.92,161.31 473.35,160.80 473.77,160.12 474.19,160.20 474.62,159.94 475.04,159.55 475.46,159.18 475.89,158.50 476.31,158.44 476.74,158.08 477.16,158.11 477.58,157.91 478.01,156.94 478.43,156.38 478.85,156.22 479.28,155.69 479.70,155.28 480.16,155.88 480.62,155.99 481.08,156.88 481.54,157.07 482.00,157.58 482.60,153.15 483.01,151.75 483.43,150.46 483.84,149.44 484.26,148.12 484.67,147.13 485.09,145.83 485.50,144.19 485.93,143.75 486.36,142.46 486.79,141.81 487.22,141.03 487.65,139.63 488.08,139.41 488.51,138.56 488.94,137.59 489.37,136.64 489.80,135.79 490.23,135.09 490.66,134.78 491.09,134.17 491.52,133.85 491.95,132.94 492.38,132.85 492.81,132.30 493.24,131.70 493.67,131.09 494.10,130.87 494.51,130.74 494.93,131.92 495.34,132.40 495.76,132.96 496.17,133.53 496.59,133.76 497.00,134.42 497.47,138.99 497.93,143.23 498.40,147.46 498.85,170.00 499.30,193.50 500.40,164.32 500.70,168.82 501.00,164.33 501.65,163.18 501.95,166.98 502.25,163.15 502.90,162.00 503.20,170.81 503.50,161.68 504.15,160.23 504.45,167.52 504.75,159.41 505.40,160.93 505.70,167.92 506.00,160.57 506.65,160.26 506.95,165.61 507.25,159.71 507.90,158.11 508.20,166.18 508.50,157.26 509.15,157.55 509.45,166.51 509.75,157.11 510.40,156.94 510.70,160.48 511.00,156.41 511.65,155.82 511.95,160.95 512.25,155.86 512.80,154.60 513.40,160.00 514.30,194.90 514.70,185.00 515.10,179.10" fill="none" stroke="#3d4ae6" stroke-width="0.7"/>
<path d="M26.05 220.33 L27.95 222.23 L27.00 224.76Z M28.25 222.45 L30.15 223.54 L29.20 226.91Z M30.45 223.66 L32.35 224.28 L31.40 227.99Z M32.65 224.35 L34.55 224.70 L33.60 227.79Z M34.85 224.75 L36.75 224.94 L35.80 228.25Z M37.45 225.00 L38.55 226.47 L38.00 232.98Z M38.45 226.33 L39.55 227.87 L39.00 231.81Z M39.45 227.73 L40.55 229.27 L40.00 233.39Z M42.55 229.44 L44.45 229.70 L43.50 234.00Z M44.75 229.75 L46.65 230.02 L45.70 233.89Z M46.95 230.06 L48.85 230.33 L47.90 233.87Z M49.15 230.37 L51.05 230.64 L50.10 234.37Z M51.35 230.68 L53.25 230.95 L52.30 234.88Z M53.55 230.99 L55.45 231.94 L54.50 234.69Z M56.15 233.09 L57.25 234.90 L56.70 238.91Z M57.15 234.73 L58.25 236.54 L57.70 242.50Z M59.55 235.05 L61.45 235.39 L60.50 239.29Z M61.75 235.44 L63.65 235.79 L62.70 239.48Z M63.95 235.84 L65.85 236.19 L64.90 240.28Z M66.15 236.24 L68.05 236.58 L67.10 240.33Z M68.35 236.64 L70.25 236.98 L69.30 241.29Z M70.55 237.04 L72.45 237.93 L71.50 240.68Z M73.15 238.91 L74.25 240.45 L73.70 245.84Z M74.15 240.31 L75.25 241.85 L74.70 247.03Z M76.75 241.43 L78.65 241.66 L77.70 245.21Z M78.95 241.70 L80.85 241.94 L79.90 245.79Z M81.15 241.97 L83.05 242.21 L82.10 245.60Z M83.35 242.24 L85.25 242.48 L84.30 246.60Z M85.55 242.51 L87.45 242.75 L86.50 246.96Z M87.75 242.78 L89.65 243.27 L88.70 246.27Z M90.35 244.53 L91.45 246.51 L90.90 251.42Z M91.35 246.33 L92.45 248.31 L91.90 252.65Z M93.95 247.34 L95.85 247.65 L94.90 250.80Z M96.15 247.69 L98.05 248.00 L97.10 252.21Z M98.35 248.05 L100.25 248.35 L99.30 251.96Z M100.55 248.40 L102.45 248.71 L101.50 251.95Z M102.75 248.76 L104.65 249.06 L103.70 252.99Z M105.35 249.18 L106.45 250.31 L105.90 254.78Z M106.35 250.20 L107.45 251.48 L106.90 258.04Z M107.35 251.37 L108.45 252.66 L107.90 257.16Z M108.35 252.54 L109.45 253.83 L108.90 257.78Z M111.25 254.75 L113.15 255.11 L112.20 258.39Z M113.45 255.17 L115.35 255.53 L114.40 259.00Z M115.65 255.59 L117.55 255.95 L116.60 259.58Z M117.85 256.01 L119.75 256.37 L118.80 260.57Z M120.05 256.43 L121.95 256.79 L121.00 260.72Z M122.65 257.45 L123.75 258.55 L123.20 263.52Z M123.65 258.45 L124.75 259.55 L124.20 263.55Z M124.65 259.45 L125.75 260.55 L125.20 264.98Z M128.25 262.55 L130.15 262.91 L129.20 267.23Z M130.45 262.97 L132.35 263.33 L131.40 266.95Z M132.65 263.39 L134.55 263.76 L133.60 267.67Z M134.85 263.81 L136.75 264.18 L135.80 267.27Z M137.05 264.23 L138.95 264.60 L138.00 267.66Z M139.65 264.73 L140.75 266.10 L140.20 272.18Z M140.65 265.93 L141.75 267.83 L141.20 273.14Z M141.65 267.66 L142.75 269.57 L142.20 274.04Z M145.05 268.33 L146.95 268.56 L146.00 272.06Z M147.25 268.60 L149.15 268.83 L148.20 272.03Z M149.45 268.86 L151.35 269.09 L150.40 272.40Z M151.65 269.13 L153.55 269.36 L152.60 272.48Z M153.85 269.39 L155.75 269.62 L154.80 273.80Z M156.05 269.66 L157.95 270.98 L157.00 273.58Z M158.65 272.08 L159.75 273.82 L159.20 277.83Z M159.65 273.66 L160.75 275.39 L160.20 281.25Z M162.25 272.12 L164.15 272.31 L163.20 275.67Z M164.45 272.34 L166.35 272.53 L165.40 275.71Z M166.65 272.56 L168.55 272.74 L167.60 276.63Z M168.85 272.77 L170.75 272.96 L169.80 277.23Z M171.05 272.99 L172.95 273.18 L172.00 276.32Z M173.25 273.21 L175.15 274.44 L174.20 277.55Z M175.85 275.28 L176.95 276.60 L176.40 281.01Z M176.85 276.48 L177.95 277.80 L177.40 281.92Z M179.75 275.34 L181.65 275.60 L180.70 278.69Z M181.95 275.64 L183.85 275.91 L182.90 279.36Z M184.15 275.95 L186.05 276.22 L185.10 280.23Z M186.35 276.26 L188.25 276.52 L187.30 280.23Z M188.55 276.57 L190.45 278.00 L189.50 281.01Z M191.15 278.95 L192.25 280.46 L191.70 284.86Z M196.75 281.08 L198.65 281.68 L197.70 284.99Z M198.95 281.77 L200.85 282.37 L199.90 285.61Z M201.15 282.46 L203.05 283.06 L202.10 287.24Z M203.35 283.16 L205.25 283.76 L204.30 287.88Z M205.55 283.85 L207.45 284.45 L206.50 287.79Z M207.75 284.54 L209.65 286.75 L208.70 288.61Z M210.35 289.47 L211.45 293.75 L210.90 297.05Z" fill="#ff70ff" stroke="#ff70ff" stroke-width="0.3" stroke-linejoin="round"/>
<polyline points="40.50,229.20 41.15,251.80 41.55,248.80 42.30,229.40" fill="none" stroke="#ff4cff" stroke-width="0.95" stroke-linejoin="round"/>
<polyline points="57.80,235.80 58.15,257.70 58.55,254.70 59.30,235.00" fill="none" stroke="#ff4cff" stroke-width="0.95" stroke-linejoin="round"/>
<polyline points="75.00,241.50 75.35,263.50 75.75,260.50 76.50,241.40" fill="none" stroke="#ff4cff" stroke-width="0.95" stroke-linejoin="round"/>
<polyline points="92.00,247.50 92.45,268.50 92.85,265.50 93.70,247.30" fill="none" stroke="#ff4cff" stroke-width="0.95" stroke-linejoin="round"/>
<polyline points="109.00,253.30 109.85,276.00 110.25,273.00 111.00,254.70" fill="none" stroke="#ff4cff" stroke-width="0.95" stroke-linejoin="round"/>
<polyline points="126.00,260.80 127.05,283.50 127.45,280.50 128.00,262.50" fill="none" stroke="#ff4cff" stroke-width="0.95" stroke-linejoin="round"/>
<polyline points="143.00,270.00 143.85,290.20 144.25,287.20 144.80,268.30" fill="none" stroke="#ff4cff" stroke-width="0.95" stroke-linejoin="round"/>
<polyline points="160.50,275.00 161.15,295.20 161.55,292.20 162.00,272.10" fill="none" stroke="#ff4cff" stroke-width="0.95" stroke-linejoin="round"/>
<polyline points="177.70,277.50 178.35,298.50 178.75,295.50 179.50,275.30" fill="none" stroke="#ff4cff" stroke-width="0.95" stroke-linejoin="round"/>
<polyline points="192.50,280.80 195.15,306.80 195.55,303.80 196.50,281.00" fill="none" stroke="#ff4cff" stroke-width="0.95" stroke-linejoin="round"/>
<polyline points="211.00,292.00 211.20,297.00" fill="none" stroke="#ff4cff" stroke-width="0.95" stroke-linejoin="round"/>
<polyline points="25.80,220.00 26.30,220.63 26.80,221.19 27.30,221.68 27.80,222.11 28.30,222.49 28.80,222.82 29.30,223.12 29.80,223.38 30.30,223.60 30.80,223.80 31.30,223.98 31.80,224.13 32.30,224.27 32.80,224.39 33.30,224.49 33.80,224.59 34.30,224.67 34.80,224.74 35.30,224.80 35.80,224.86 36.30,224.91 36.80,224.95 37.30,224.99 37.80,225.42 38.30,226.12 38.80,226.82 39.30,227.52 39.80,228.22 40.30,228.92 40.50,229.20" fill="none" stroke="#ff1cff" stroke-width="1.2" stroke-linejoin="round"/>
<polyline points="42.30,229.40 42.80,229.47 43.30,229.54 43.80,229.61 44.30,229.68 44.80,229.75 45.30,229.83 45.80,229.90 46.30,229.97 46.80,230.04 47.30,230.11 47.80,230.18 48.30,230.25 48.80,230.32 49.30,230.39 49.80,230.46 50.30,230.53 50.80,230.60 51.30,230.68 51.80,230.75 52.30,230.82 52.80,230.89 53.30,230.96 53.80,231.03 54.30,231.10 54.80,231.17 55.30,231.69 55.80,232.51 56.30,233.34 56.80,234.16 57.30,234.98 57.80,235.80 57.80,235.80" fill="none" stroke="#ff1cff" stroke-width="1.2" stroke-linejoin="round"/>
<polyline points="59.30,235.00 59.80,235.09 60.30,235.18 60.80,235.27 61.30,235.36 61.80,235.45 62.30,235.54 62.80,235.63 63.30,235.72 63.80,235.81 64.30,235.91 64.80,236.00 65.30,236.09 65.80,236.18 66.30,236.27 66.80,236.36 67.30,236.45 67.80,236.54 68.30,236.63 68.80,236.72 69.30,236.81 69.80,236.90 70.30,236.99 70.80,237.08 71.30,237.17 71.80,237.26 72.30,237.72 72.80,238.42 73.30,239.12 73.80,239.82 74.30,240.52 74.80,241.22 75.00,241.50" fill="none" stroke="#ff1cff" stroke-width="1.2" stroke-linejoin="round"/>
<polyline points="76.50,241.40 77.00,241.46 77.50,241.52 78.00,241.58 78.50,241.65 79.00,241.71 79.50,241.77 80.00,241.83 80.50,241.89 81.00,241.95 81.50,242.02 82.00,242.08 82.50,242.14 83.00,242.20 83.50,242.26 84.00,242.32 84.50,242.38 85.00,242.45 85.50,242.51 86.00,242.57 86.50,242.63 87.00,242.69 87.50,242.75 88.00,242.82 88.50,242.88 89.00,242.94 89.50,243.00 90.00,243.90 90.50,244.80 91.00,245.70 91.50,246.60 92.00,247.50 92.00,247.50" fill="none" stroke="#ff1cff" stroke-width="1.2" stroke-linejoin="round"/>
<polyline points="93.70,247.30 94.20,247.38 94.70,247.46 95.20,247.54 95.70,247.62 96.20,247.70 96.70,247.78 97.20,247.86 97.70,247.94 98.20,248.02 98.70,248.11 99.20,248.19 99.70,248.27 100.20,248.35 100.70,248.43 101.20,248.51 101.70,248.59 102.20,248.67 102.70,248.75 103.20,248.83 103.70,248.91 104.20,248.99 104.70,249.07 105.20,249.15 105.70,249.43 106.20,250.02 106.70,250.61 107.20,251.19 107.70,251.78 108.20,252.36 108.70,252.95 109.00,253.30" fill="none" stroke="#ff1cff" stroke-width="1.2" stroke-linejoin="round"/>
<polyline points="111.00,254.70 111.50,254.80 112.00,254.89 112.50,254.99 113.00,255.08 113.50,255.18 114.00,255.27 114.50,255.37 115.00,255.46 115.50,255.56 116.00,255.65 116.50,255.75 117.00,255.85 117.50,255.94 118.00,256.04 118.50,256.13 119.00,256.23 119.50,256.32 120.00,256.42 120.50,256.51 121.00,256.61 121.50,256.70 122.00,256.80 122.50,257.30 123.00,257.80 123.50,258.30 124.00,258.80 124.50,259.30 125.00,259.80 125.50,260.30 126.00,260.80 126.00,260.80" fill="none" stroke="#ff1cff" stroke-width="1.2" stroke-linejoin="round"/>
<polyline points="128.00,262.50 128.50,262.60 129.00,262.69 129.50,262.79 130.00,262.88 130.50,262.98 131.00,263.07 131.50,263.17 132.00,263.27 132.50,263.36 133.00,263.46 133.50,263.55 134.00,263.65 134.50,263.75 135.00,263.84 135.50,263.94 136.00,264.03 136.50,264.13 137.00,264.23 137.50,264.32 138.00,264.42 138.50,264.51 139.00,264.61 139.50,264.70 140.00,264.80 140.50,265.67 141.00,266.53 141.50,267.40 142.00,268.27 142.50,269.13 143.00,270.00 143.00,270.00" fill="none" stroke="#ff1cff" stroke-width="1.2" stroke-linejoin="round"/>
<polyline points="144.80,268.30 145.30,268.36 145.80,268.42 146.30,268.48 146.80,268.54 147.30,268.60 147.80,268.66 148.30,268.72 148.80,268.78 149.30,268.84 149.80,268.90 150.30,268.97 150.80,269.03 151.30,269.09 151.80,269.15 152.30,269.21 152.80,269.27 153.30,269.33 153.80,269.39 154.30,269.45 154.80,269.51 155.30,269.57 155.80,269.63 156.30,269.69 156.80,269.75 157.30,269.96 157.80,270.75 158.30,271.53 158.80,272.32 159.30,273.11 159.80,273.90 160.30,274.68 160.50,275.00" fill="none" stroke="#ff1cff" stroke-width="1.2" stroke-linejoin="round"/>
<polyline points="162.00,272.10 162.50,272.15 163.00,272.20 163.50,272.25 164.00,272.30 164.50,272.35 165.00,272.40 165.50,272.44 166.00,272.49 166.50,272.54 167.00,272.59 167.50,272.64 168.00,272.69 168.50,272.74 169.00,272.79 169.50,272.84 170.00,272.89 170.50,272.94 171.00,272.99 171.50,273.03 172.00,273.08 172.50,273.13 173.00,273.18 173.50,273.23 174.00,273.28 174.50,273.66 175.00,274.26 175.50,274.86 176.00,275.46 176.50,276.06 177.00,276.66 177.50,277.26 177.70,277.50" fill="none" stroke="#ff1cff" stroke-width="1.2" stroke-linejoin="round"/>
<polyline points="179.50,275.30 180.00,275.37 180.50,275.44 181.00,275.51 181.50,275.58 182.00,275.65 182.50,275.72 183.00,275.79 183.50,275.86 184.00,275.93 184.50,276.00 185.00,276.07 185.50,276.14 186.00,276.21 186.50,276.28 187.00,276.35 187.50,276.42 188.00,276.49 188.50,276.56 189.00,276.63 189.50,276.70 190.00,277.38 190.50,278.07 191.00,278.75 191.50,279.43 192.00,280.12 192.50,280.80 192.50,280.80" fill="none" stroke="#ff1cff" stroke-width="1.2" stroke-linejoin="round"/>
<polyline points="196.50,281.00 197.00,281.16 197.50,281.31 198.00,281.47 198.50,281.63 199.00,281.79 199.50,281.94 200.00,282.10 200.50,282.26 201.00,282.42 201.50,282.57 202.00,282.73 202.50,282.89 203.00,283.05 203.50,283.20 204.00,283.36 204.50,283.52 205.00,283.68 205.50,283.83 206.00,283.99 206.50,284.15 207.00,284.31 207.50,284.46 208.00,284.62 208.50,284.78 209.00,284.94 209.50,286.17 210.00,288.11 210.50,290.06 211.00,292.00 211.00,292.00" fill="none" stroke="#ff1cff" stroke-width="1.2" stroke-linejoin="round"/>
<polyline points="328.60,281.05 328.82,272.41 329.04,282.35 329.26,271.49 329.48,282.01 329.70,260.98 329.92,281.43 330.14,270.83 330.36,281.15 330.58,270.52 330.80,280.70 331.02,272.13 331.24,281.28 331.46,272.15 331.68,281.63 331.90,270.51 332.12,260.79 332.34,272.43 332.56,281.79 332.78,272.10 333.00,280.57 333.22,272.15 333.44,282.01 333.66,271.60 333.88,282.36 334.10,270.29 334.32,281.26 334.54,263.60 334.76,282.33 334.98,270.96 335.20,282.04 335.42,272.42 335.64,282.26 335.86,271.10 336.08,281.26 336.30,271.69 336.52,281.25 336.74,262.87 336.96,281.88 337.18,271.51 337.40,280.73 337.62,272.22 337.84,282.31 338.06,271.08 338.28,280.63 338.50,260.74 338.72,282.35 338.94,270.46 339.16,281.17 339.38,272.15 339.60,281.59 339.82,272.39 340.04,280.94 340.26,270.68 340.48,280.94 340.70,270.57 340.92,263.19 341.14,271.88 341.36,282.21 341.58,271.52 341.80,285.94 342.02,257.56 342.24,285.25 342.46,255.13 342.68,287.59 342.90,254.98 343.12,286.84 343.34,254.12 343.56,287.27 343.78,253.62 344.00,286.47 344.22,217.60 344.44,217.60 344.66,296.14 344.88,277.63 345.10,290.83 345.32,277.63 345.54,261.64 345.76,281.99 345.98,270.02 346.20,282.29 346.42,271.69 346.64,281.43 346.86,272.44 347.08,282.18 347.30,270.48 347.52,280.98 347.74,261.78 347.96,281.03 348.18,271.75 348.40,281.24 348.62,271.65 348.84,281.04 349.06,271.53 349.28,282.19 349.50,270.28 349.72,281.16 349.94,270.62 350.16,281.41 350.38,261.22 350.60,281.39 350.82,272.36 351.04,281.42 351.26,270.44 351.48,281.13 351.70,270.47 351.92,281.53 352.14,270.27 352.36,282.27 352.58,260.86 352.80,282.30 353.02,270.94 353.24,281.61 353.46,271.42 353.68,280.85 353.90,272.17 354.12,281.30 354.34,271.46 354.56,262.19 354.78,272.17 355.00,281.50 355.22,270.32 355.44,282.15 355.66,272.49 355.88,282.35 356.10,271.34 356.32,280.61 356.54,272.40 356.76,260.42 356.98,272.21 357.20,281.68 357.42,271.99 357.64,281.11 357.86,271.13 358.08,281.93 358.30,271.86 358.52,280.82 358.74,253.87 358.96,286.33 359.18,256.64 359.40,284.41 359.62,252.31 359.84,288.61 360.06,258.53 360.28,286.81 360.50,255.86 360.72,288.66 360.94,259.34 361.16,287.72 361.38,217.60 361.60,296.14 361.82,291.47 362.04,277.63 362.26,290.12 362.48,277.63 362.70,261.88 362.92,282.39 363.14,271.36 363.36,280.80 363.58,270.18 363.80,281.78 364.02,270.25 364.24,280.70 364.46,262.66 364.68,281.78 364.90,272.12 365.12,281.38 365.34,272.30 365.56,281.21 365.78,270.45 366.00,280.73 366.22,271.37 366.44,282.25 366.66,270.21 366.88,260.88 367.10,271.00 367.32,281.19 367.54,271.56 367.76,282.13 367.98,271.77 368.20,281.10 368.42,271.69 368.64,281.15 368.86,271.23 369.08,281.62 369.30,270.05 369.52,263.58 369.74,272.11 369.96,280.68 370.18,271.27 370.40,281.84 370.62,272.09 370.84,281.34 371.06,271.50 371.28,282.24 371.50,272.43 371.72,262.72 371.94,271.19 372.16,280.75 372.38,270.19 372.60,280.69 372.82,270.47 373.04,281.56 373.26,271.18 373.48,281.72 373.70,271.50 373.92,264.06 374.14,271.89 374.36,282.42 374.58,271.33 374.80,281.10 375.02,271.40 375.24,281.78 375.46,270.84 375.68,282.17 375.90,272.49 376.12,285.34 376.34,255.68 376.56,283.59 376.78,256.56 377.00,284.10 377.22,259.61 377.44,288.95 377.66,255.16 377.88,287.68 378.10,259.23 378.32,288.30 378.54,256.87 378.76,217.60 378.98,296.14 379.20,277.63 379.42,291.66 379.64,277.63 379.86,290.79 380.08,260.81 380.30,272.05 380.52,281.37 380.74,272.51 380.96,281.74 381.18,271.71 381.40,281.74 381.62,272.39 381.84,281.42 382.06,261.82 382.28,280.64 382.50,271.61 382.72,281.22 382.94,271.39 383.16,282.07 383.38,270.25 383.60,281.05 383.82,270.11 384.04,280.91 384.26,270.17 384.48,263.73 384.70,272.01 384.92,281.69 385.14,270.76 385.36,281.64 385.58,271.21 385.80,281.02 386.02,272.34 386.24,261.62 386.46,271.88 386.68,281.10 386.90,270.77 387.12,281.70 387.34,271.76 387.56,280.89 387.78,271.82 388.00,264.10 388.22,272.46 388.44,280.93 388.66,272.20 388.88,280.61 389.10,271.97 389.32,281.89 389.54,271.02 389.76,281.89 389.98,262.76 390.20,281.73 390.42,272.45 390.64,282.05 390.86,270.19 391.08,281.94 391.30,271.83 391.52,281.18 391.74,260.83 391.96,281.76 392.18,270.69 392.40,280.96 392.62,270.95 392.84,282.14 393.06,272.06 393.28,281.03 393.50,254.33 393.72,283.40 393.94,253.77 394.16,286.43 394.38,258.72 394.60,283.43 394.82,254.42 395.04,285.44 395.26,254.52 395.48,286.66 395.70,257.12 395.92,285.45 396.14,217.60 396.36,296.14 396.58,291.10 396.80,277.63 397.02,290.24 397.24,277.63 397.46,260.63 397.68,281.74 397.90,271.57 398.12,280.70 398.34,271.51 398.56,280.95 398.78,272.28 399.00,281.61 399.22,271.20 399.44,280.93 399.66,270.28 399.88,282.19 400.10,261.85 400.32,282.19 400.54,270.39 400.76,281.42 400.98,270.06 401.20,282.12 401.42,271.18 401.64,281.86 401.86,270.88 402.08,281.31 402.30,271.21 402.52,262.97 402.74,271.57 402.96,280.77 403.18,271.34 403.40,281.57 403.62,271.86 403.84,281.99 404.06,270.08 404.28,281.88 404.50,270.30 404.72,261.94 404.94,272.10 405.16,280.68 405.38,270.54 405.60,281.39 405.82,270.71 406.04,281.09 406.26,271.37 406.48,281.26 406.70,271.93 406.92,282.44 407.14,270.79 407.36,262.40 407.58,271.84 407.80,280.91 408.02,270.00 408.24,280.76 408.46,270.05 408.68,282.17 408.90,272.10 409.12,282.04 409.34,271.59 409.56,282.26 409.78,272.13 410.00,264.14 410.22,271.59 410.44,281.28 410.66,271.36 410.88,284.38 411.10,253.57 411.32,286.67 411.54,255.64 411.76,288.50 411.98,257.56 412.20,287.70 412.42,257.38 412.64,287.05 412.86,255.34 413.08,287.00 413.30,217.60 413.52,217.60 413.74,296.14 413.96,277.63 414.18,291.70 414.40,277.63 414.62,261.03 414.84,282.47 415.06,272.37 415.28,280.82 415.50,270.90 415.72,281.08 415.94,270.07 416.16,282.06 416.38,260.69 416.60,281.48 416.82,270.78 417.04,280.95 417.26,271.88 417.48,281.57 417.70,272.40 417.92,281.93 418.14,270.01 418.36,260.75 418.58,270.51 418.80,280.75 419.02,271.67 419.24,280.60 419.46,271.37 419.68,282.17 419.90,271.16 420.12,281.34 420.34,270.75 420.56,261.65 420.78,270.88 421.00,280.71 421.22,270.81 421.44,280.61 421.66,271.21 421.88,280.93 422.10,272.16 422.32,260.78 422.54,270.28 422.76,281.86 422.98,270.92 423.20,280.86 423.42,270.70 423.64,281.29 423.86,270.04 424.08,282.31 424.30,272.26 424.52,262.10 424.74,270.76 424.96,281.89 425.18,272.24 425.40,281.62 425.62,271.29 425.84,281.58 426.06,270.94 426.28,281.96 426.50,270.27 426.72,281.93 426.94,272.24 427.16,262.88 427.38,272.11 427.60,281.95 427.82,252.65 428.04,286.90 428.26,253.29 428.48,288.83 428.70,252.94 428.92,287.60 429.14,258.36 429.36,284.38 429.58,252.16 429.80,282.99 430.02,253.98 430.24,283.28 430.46,217.60 430.68,296.14 430.90,289.17 431.12,277.63 431.34,290.83 431.56,277.63 431.78,263.66 432.00,281.72 432.22,271.72 432.44,281.52 432.66,272.43 432.88,282.44 433.10,271.84 433.32,281.34 433.54,270.60 433.76,280.65 433.98,270.43 434.20,280.68 434.42,261.78 434.64,281.35 434.86,272.31 435.08,282.36 435.30,270.58 435.52,282.09 435.74,270.50 435.96,281.59 436.18,272.50 436.40,281.40 436.62,271.39 436.84,263.93 437.06,271.73 437.28,281.82 437.50,270.71 437.72,282.16 437.94,271.38 438.16,281.32 438.38,270.10 438.60,282.26 438.82,263.91 439.04,282.06 439.26,272.10 439.48,282.33 439.70,271.98 439.92,282.05 440.14,271.29 440.36,281.24 440.58,271.59 440.80,263.57 441.02,271.85 441.24,282.15 441.46,271.29 441.68,280.81 441.90,270.69 442.12,282.09 442.34,272.43 442.56,263.96 442.78,271.59 443.00,281.17 443.22,272.30 443.44,281.99 443.66,270.77 443.88,281.39 444.10,271.20 444.32,280.75 444.54,272.23 444.76,263.47 444.98,255.41 445.20,282.86 445.42,252.26 445.64,285.37 445.86,253.93 446.08,284.67 446.30,258.73 446.52,285.27 446.74,257.40 446.96,286.83 447.18,258.55 447.40,217.60 447.62,217.60 447.84,296.14 448.06,292.92 448.28,277.63 448.50,289.68 448.72,261.47 448.94,271.78 449.16,281.68 449.38,272.07 449.60,281.33 449.82,270.37 450.04,280.99 450.26,270.13 450.48,281.98 450.70,270.73 450.92,282.24 451.14,262.16 451.36,281.44 451.58,271.13 451.80,281.81 452.02,271.62 452.24,281.12 452.46,271.29 452.68,281.70 452.90,263.78 453.12,280.86 453.34,270.03 453.56,281.76 453.78,270.29 454.00,280.81 454.22,271.96 454.44,281.95 454.66,270.74 454.88,263.04 455.10,271.58 455.32,281.08 455.54,270.71 455.76,282.07 455.98,270.31 456.20,281.85 456.42,272.24 456.64,282.38 456.86,271.36 457.08,281.27 457.30,271.82 457.52,260.99 457.74,270.35 457.96,282.42 458.18,271.85 458.40,282.17 458.62,271.37 458.84,281.81 459.06,271.51 459.28,280.85 459.50,262.00 459.72,281.73 459.94,270.45 460.16,281.52 460.38,270.61 460.60,280.73 460.82,270.95 461.04,281.65 461.26,271.84 461.48,280.73 461.70,270.56 461.92,284.01 462.14,258.05 462.36,286.33 462.58,252.97 462.80,287.55 463.02,253.51 463.24,285.68 463.46,258.07 463.68,286.72 463.90,259.16 464.12,284.82 464.34,254.18 464.56,217.60 464.78,296.14 465.00,277.63 465.22,292.84 465.44,277.63 465.66,291.80 465.88,261.27 466.10,271.15 466.32,280.94 466.54,271.06 466.76,282.24 466.98,270.19 467.20,281.05 467.42,271.07 467.64,281.84 467.86,261.98 468.08,282.25 468.30,272.21 468.52,282.39 468.74,272.08 468.96,282.01 469.18,270.89 469.40,281.37 469.62,271.01 469.84,280.90 470.06,263.85 470.28,282.33 470.50,271.45 470.72,282.33 470.94,272.35 471.16,282.28 471.38,271.52 471.60,281.02 471.82,271.80 472.04,281.06 472.26,263.32 472.48,281.58 472.70,272.33 472.92,281.62 473.14,271.03 473.36,280.90 473.58,272.37 473.80,280.95 474.02,271.06 474.24,262.00 474.46,270.27 474.68,281.95 474.90,271.12 475.12,281.45 475.34,270.19 475.56,281.33 475.78,269.98 476.00,263.33 476.22,271.04 476.44,281.50 476.66,270.91 476.88,281.42 477.10,271.66 477.32,281.25 477.54,272.30 477.76,281.56 477.98,271.36 478.20,282.07 478.42,262.04 478.64,282.24 478.86,271.76 479.08,282.36 479.30,255.17 479.52,288.60 479.74,257.99 479.96,286.26 480.18,256.28 480.40,288.91 480.62,252.49 480.84,287.65 481.06,255.07 481.28,287.70 481.50,255.18 481.72,217.60 481.94,217.60 482.16,296.14 482.38,291.60 482.60,277.63 482.82,291.73 483.04,262.40 483.26,270.99 483.48,281.16 483.70,271.83 483.92,282.30 484.14,271.87 484.36,281.85 484.58,270.97 484.80,281.69 485.02,271.72 485.24,263.84 485.46,272.24 485.68,281.49 485.90,270.76 486.12,281.29 486.34,272.11 486.56,281.80 486.78,270.11 487.00,282.30 487.22,270.78 487.44,262.54 487.66,271.51 487.88,282.24 488.10,271.08 488.32,282.47 488.54,270.31 488.76,280.95 488.98,271.56 489.20,281.45 489.42,271.17 489.64,280.60 489.86,264.05 490.08,281.70 490.30,270.51 490.52,281.08 490.74,271.44 490.96,282.46 491.18,270.86 491.40,281.70 491.62,272.22 491.84,261.80 492.06,271.73 492.28,281.96 492.50,271.19 492.72,282.00 492.94,271.51 493.16,280.67 493.38,271.30 493.60,281.99 493.82,271.19 494.04,260.70 494.26,270.79 494.48,280.76 494.70,270.58 494.92,281.18 495.14,271.42 495.36,282.19 495.58,270.65 495.80,281.26 496.02,270.04 496.24,287.07 496.46,253.03 496.68,287.72 496.90,252.49 497.12,282.76 497.34,259.38 497.56,287.05 497.78,252.10 498.00,282.94 498.22,254.61 498.44,288.26 498.66,259.70 498.88,217.60 499.10,296.14 499.32,277.63 499.54,292.00 499.76,277.63 499.98,289.33 500.20,261.13 500.42,270.57 500.64,280.75 500.86,271.75 501.08,280.80 501.30,271.83 501.52,281.85 501.74,272.40 501.96,282.17 502.18,271.11 502.40,264.12 502.62,272.08 502.84,281.04 503.06,272.19 503.28,282.08 503.50,271.83 503.72,281.36 503.94,270.45 504.16,281.04 504.38,270.62 504.60,261.60 504.82,271.64 505.04,282.13 505.26,270.31 505.48,281.69 505.70,270.86 505.92,282.35 506.14,271.60 506.36,282.29 506.58,271.61 506.80,261.41 507.02,270.77 507.24,282.24 507.46,271.53 507.68,281.69 507.90,271.22 508.12,282.04 508.34,270.73 508.56,280.79 508.78,261.10 509.00,281.54 509.22,271.64 509.44,281.38 509.66,272.30 509.88,281.08 510.10,271.45 510.32,280.67 510.54,264.14 510.76,281.55 510.98,270.39 511.20,281.03 511.42,272.05 511.64,281.89 511.86,270.64 512.08,281.67 512.30,271.85 512.52,283.18 512.74,253.28 512.96,286.85 513.18,255.53 513.40,283.19 513.62,258.09 513.84,283.31 514.06,252.97 514.28,284.48 514.50,254.49 514.72,284.75" fill="none" stroke="#1fe0e8" stroke-width="0.5"/>
<rect x="25.5" y="111.6" width="202.30" height="88.40" fill="none" stroke="#858585" stroke-width="0.75"/>
<line x1="25.50" y1="200.0" x2="25.50" y2="198.3" stroke="#858585" stroke-width="0.5"/>
<line x1="25.50" y1="111.6" x2="25.50" y2="113.3" stroke="#858585" stroke-width="0.5"/>
<text x="25.50" y="207.60" font-size="4.9" fill="#474747" font-weight="normal" text-anchor="middle" stroke="#474747" stroke-width="0.1" textLength="2.50" lengthAdjust="spacingAndGlyphs">0</text>
<line x1="54.40" y1="200.0" x2="54.40" y2="198.3" stroke="#858585" stroke-width="0.5"/>
<line x1="54.40" y1="111.6" x2="54.40" y2="113.3" stroke="#858585" stroke-width="0.5"/>
<text x="54.40" y="207.60" font-size="4.9" fill="#474747" font-weight="normal" text-anchor="middle" stroke="#474747" stroke-width="0.1" textLength="10.00" lengthAdjust="spacingAndGlyphs">2000</text>
<line x1="83.30" y1="200.0" x2="83.30" y2="198.3" stroke="#858585" stroke-width="0.5"/>
<line x1="83.30" y1="111.6" x2="83.30" y2="113.3" stroke="#858585" stroke-width="0.5"/>
<text x="83.30" y="207.60" font-size="4.9" fill="#474747" font-weight="normal" text-anchor="middle" stroke="#474747" stroke-width="0.1" textLength="10.00" lengthAdjust="spacingAndGlyphs">4000</text>
<line x1="112.20" y1="200.0" x2="112.20" y2="198.3" stroke="#858585" stroke-width="0.5"/>
<line x1="112.20" y1="111.6" x2="112.20" y2="113.3" stroke="#858585" stroke-width="0.5"/>
<text x="112.20" y="207.60" font-size="4.9" fill="#474747" font-weight="normal" text-anchor="middle" stroke="#474747" stroke-width="0.1" textLength="10.00" lengthAdjust="spacingAndGlyphs">6000</text>
<line x1="141.10" y1="200.0" x2="141.10" y2="198.3" stroke="#858585" stroke-width="0.5"/>
<line x1="141.10" y1="111.6" x2="141.10" y2="113.3" stroke="#858585" stroke-width="0.5"/>
<text x="141.10" y="207.60" font-size="4.9" fill="#474747" font-weight="normal" text-anchor="middle" stroke="#474747" stroke-width="0.1" textLength="10.00" lengthAdjust="spacingAndGlyphs">8000</text>
<line x1="170.00" y1="200.0" x2="170.00" y2="198.3" stroke="#858585" stroke-width="0.5"/>
<line x1="170.00" y1="111.6" x2="170.00" y2="113.3" stroke="#858585" stroke-width="0.5"/>
<text x="170.00" y="207.60" font-size="4.9" fill="#474747" font-weight="normal" text-anchor="middle" stroke="#474747" stroke-width="0.1" textLength="12.50" lengthAdjust="spacingAndGlyphs">10000</text>
<line x1="198.90" y1="200.0" x2="198.90" y2="198.3" stroke="#858585" stroke-width="0.5"/>
<line x1="198.90" y1="111.6" x2="198.90" y2="113.3" stroke="#858585" stroke-width="0.5"/>
<text x="198.90" y="207.60" font-size="4.9" fill="#474747" font-weight="normal" text-anchor="middle" stroke="#474747" stroke-width="0.1" textLength="12.50" lengthAdjust="spacingAndGlyphs">12000</text>
<line x1="227.80" y1="200.0" x2="227.80" y2="198.3" stroke="#858585" stroke-width="0.5"/>
<line x1="227.80" y1="111.6" x2="227.80" y2="113.3" stroke="#858585" stroke-width="0.5"/>
<text x="227.80" y="207.60" font-size="4.9" fill="#474747" font-weight="normal" text-anchor="middle" stroke="#474747" stroke-width="0.1" textLength="12.50" lengthAdjust="spacingAndGlyphs">14000</text>
<line x1="25.5" y1="200.00" x2="27.2" y2="200.00" stroke="#858585" stroke-width="0.5"/>
<line x1="227.8" y1="200.00" x2="226.10000000000002" y2="200.00" stroke="#858585" stroke-width="0.5"/>
<text x="23.30" y="202.50" font-size="4.9" fill="#474747" font-weight="normal" text-anchor="end" stroke="#474747" stroke-width="0.1" textLength="2.50" lengthAdjust="spacingAndGlyphs">0</text>
<line x1="25.5" y1="185.27" x2="27.2" y2="185.27" stroke="#858585" stroke-width="0.5"/>
<line x1="227.8" y1="185.27" x2="226.10000000000002" y2="185.27" stroke="#858585" stroke-width="0.5"/>
<text x="23.30" y="187.77" font-size="4.9" fill="#474747" font-weight="normal" text-anchor="end" stroke="#474747" stroke-width="0.1" textLength="6.30" lengthAdjust="spacingAndGlyphs">0.2</text>
<line x1="25.5" y1="170.53" x2="27.2" y2="170.53" stroke="#858585" stroke-width="0.5"/>
<line x1="227.8" y1="170.53" x2="226.10000000000002" y2="170.53" stroke="#858585" stroke-width="0.5"/>
<text x="23.30" y="173.03" font-size="4.9" fill="#474747" font-weight="normal" text-anchor="end" stroke="#474747" stroke-width="0.1" textLength="6.30" lengthAdjust="spacingAndGlyphs">0.4</text>
<line x1="25.5" y1="155.80" x2="27.2" y2="155.80" stroke="#858585" stroke-width="0.5"/>
<line x1="227.8" y1="155.80" x2="226.10000000000002" y2="155.80" stroke="#858585" stroke-width="0.5"/>
<text x="23.30" y="158.30" font-size="4.9" fill="#474747" font-weight="normal" text-anchor="end" stroke="#474747" stroke-width="0.1" textLength="6.30" lengthAdjust="spacingAndGlyphs">0.6</text>
<line x1="25.5" y1="141.07" x2="27.2" y2="141.07" stroke="#858585" stroke-width="0.5"/>
<line x1="227.8" y1="141.07" x2="226.10000000000002" y2="141.07" stroke="#858585" stroke-width="0.5"/>
<text x="23.30" y="143.57" font-size="4.9" fill="#474747" font-weight="normal" text-anchor="end" stroke="#474747" stroke-width="0.1" textLength="6.30" lengthAdjust="spacingAndGlyphs">0.8</text>
<line x1="25.5" y1="126.33" x2="27.2" y2="126.33" stroke="#858585" stroke-width="0.5"/>
<line x1="227.8" y1="126.33" x2="226.10000000000002" y2="126.33" stroke="#858585" stroke-width="0.5"/>
<text x="23.30" y="128.83" font-size="4.9" fill="#474747" font-weight="normal" text-anchor="end" stroke="#474747" stroke-width="0.1" textLength="2.50" lengthAdjust="spacingAndGlyphs">1</text>
<line x1="25.5" y1="111.60" x2="27.2" y2="111.60" stroke="#858585" stroke-width="0.5"/>
<line x1="227.8" y1="111.60" x2="226.10000000000002" y2="111.60" stroke="#858585" stroke-width="0.5"/>
<text x="23.30" y="114.10" font-size="4.9" fill="#474747" font-weight="normal" text-anchor="end" stroke="#474747" stroke-width="0.1" textLength="6.30" lengthAdjust="spacingAndGlyphs">1.2</text>
<text x="126.65" y="213.90" font-size="5.7" fill="#2a2a2a" font-weight="normal" text-anchor="middle" stroke="#2a2a2a" stroke-width="0.1" textLength="16.80" lengthAdjust="spacingAndGlyphs">Time(s)</text>
<text x="15.0" y="155.80" font-size="5.4" fill="#2a2a2a" text-anchor="middle" transform="rotate(-90 15.0 155.80)" textLength="10" lengthAdjust="spacingAndGlyphs">SOC</text>
<rect x="99.70" y="113.70" width="55.00" height="11.50" fill="#ffffff" />
<text x="101.30" y="121.60" font-size="5.8" fill="#1a1a1a" font-weight="normal" text-anchor="start" stroke="#1a1a1a" stroke-width="0.12" textLength="51.20" lengthAdjust="spacingAndGlyphs">SOC estimation curve</text>
<rect x="328.5" y="111.6" width="202.80" height="88.40" fill="none" stroke="#858585" stroke-width="0.75"/>
<line x1="328.50" y1="200.0" x2="328.50" y2="198.3" stroke="#858585" stroke-width="0.5"/>
<line x1="328.50" y1="111.6" x2="328.50" y2="113.3" stroke="#858585" stroke-width="0.5"/>
<text x="328.50" y="207.60" font-size="4.9" fill="#474747" font-weight="normal" text-anchor="middle" stroke="#474747" stroke-width="0.1" textLength="2.50" lengthAdjust="spacingAndGlyphs">0</text>
<line x1="357.47" y1="200.0" x2="357.47" y2="198.3" stroke="#858585" stroke-width="0.5"/>
<line x1="357.47" y1="111.6" x2="357.47" y2="113.3" stroke="#858585" stroke-width="0.5"/>
<text x="357.47" y="207.60" font-size="4.9" fill="#474747" font-weight="normal" text-anchor="middle" stroke="#474747" stroke-width="0.1" textLength="10.00" lengthAdjust="spacingAndGlyphs">2000</text>
<line x1="386.44" y1="200.0" x2="386.44" y2="198.3" stroke="#858585" stroke-width="0.5"/>
<line x1="386.44" y1="111.6" x2="386.44" y2="113.3" stroke="#858585" stroke-width="0.5"/>
<text x="386.44" y="207.60" font-size="4.9" fill="#474747" font-weight="normal" text-anchor="middle" stroke="#474747" stroke-width="0.1" textLength="10.00" lengthAdjust="spacingAndGlyphs">4000</text>
<line x1="415.41" y1="200.0" x2="415.41" y2="198.3" stroke="#858585" stroke-width="0.5"/>
<line x1="415.41" y1="111.6" x2="415.41" y2="113.3" stroke="#858585" stroke-width="0.5"/>
<text x="415.41" y="207.60" font-size="4.9" fill="#474747" font-weight="normal" text-anchor="middle" stroke="#474747" stroke-width="0.1" textLength="10.00" lengthAdjust="spacingAndGlyphs">6000</text>
<line x1="444.39" y1="200.0" x2="444.39" y2="198.3" stroke="#858585" stroke-width="0.5"/>
<line x1="444.39" y1="111.6" x2="444.39" y2="113.3" stroke="#858585" stroke-width="0.5"/>
<text x="444.39" y="207.60" font-size="4.9" fill="#474747" font-weight="normal" text-anchor="middle" stroke="#474747" stroke-width="0.1" textLength="10.00" lengthAdjust="spacingAndGlyphs">8000</text>
<line x1="473.36" y1="200.0" x2="473.36" y2="198.3" stroke="#858585" stroke-width="0.5"/>
<line x1="473.36" y1="111.6" x2="473.36" y2="113.3" stroke="#858585" stroke-width="0.5"/>
<text x="473.36" y="207.60" font-size="4.9" fill="#474747" font-weight="normal" text-anchor="middle" stroke="#474747" stroke-width="0.1" textLength="12.50" lengthAdjust="spacingAndGlyphs">10000</text>
<line x1="502.33" y1="200.0" x2="502.33" y2="198.3" stroke="#858585" stroke-width="0.5"/>
<line x1="502.33" y1="111.6" x2="502.33" y2="113.3" stroke="#858585" stroke-width="0.5"/>
<text x="502.33" y="207.60" font-size="4.9" fill="#474747" font-weight="normal" text-anchor="middle" stroke="#474747" stroke-width="0.1" textLength="12.50" lengthAdjust="spacingAndGlyphs">12000</text>
<line x1="531.30" y1="200.0" x2="531.30" y2="198.3" stroke="#858585" stroke-width="0.5"/>
<line x1="531.30" y1="111.6" x2="531.30" y2="113.3" stroke="#858585" stroke-width="0.5"/>
<text x="531.30" y="207.60" font-size="4.9" fill="#474747" font-weight="normal" text-anchor="middle" stroke="#474747" stroke-width="0.1" textLength="12.50" lengthAdjust="spacingAndGlyphs">14000</text>
<line x1="328.5" y1="200.00" x2="330.2" y2="200.00" stroke="#858585" stroke-width="0.5"/>
<line x1="531.3" y1="200.00" x2="529.5999999999999" y2="200.00" stroke="#858585" stroke-width="0.5"/>
<text x="326.30" y="202.50" font-size="4.9" fill="#474747" font-weight="normal" text-anchor="end" stroke="#474747" stroke-width="0.1" textLength="12.95" lengthAdjust="spacingAndGlyphs">-0.015</text>
<line x1="328.5" y1="182.32" x2="330.2" y2="182.32" stroke="#858585" stroke-width="0.5"/>
<line x1="531.3" y1="182.32" x2="529.5999999999999" y2="182.32" stroke="#858585" stroke-width="0.5"/>
<text x="326.30" y="184.82" font-size="4.9" fill="#474747" font-weight="normal" text-anchor="end" stroke="#474747" stroke-width="0.1" textLength="10.45" lengthAdjust="spacingAndGlyphs">-0.01</text>
<line x1="328.5" y1="164.64" x2="330.2" y2="164.64" stroke="#858585" stroke-width="0.5"/>
<line x1="531.3" y1="164.64" x2="529.5999999999999" y2="164.64" stroke="#858585" stroke-width="0.5"/>
<text x="326.30" y="167.14" font-size="4.9" fill="#474747" font-weight="normal" text-anchor="end" stroke="#474747" stroke-width="0.1" textLength="12.95" lengthAdjust="spacingAndGlyphs">-0.005</text>
<line x1="328.5" y1="146.96" x2="330.2" y2="146.96" stroke="#858585" stroke-width="0.5"/>
<line x1="531.3" y1="146.96" x2="529.5999999999999" y2="146.96" stroke="#858585" stroke-width="0.5"/>
<text x="326.30" y="149.46" font-size="4.9" fill="#474747" font-weight="normal" text-anchor="end" stroke="#474747" stroke-width="0.1" textLength="2.50" lengthAdjust="spacingAndGlyphs">0</text>
<line x1="328.5" y1="129.28" x2="330.2" y2="129.28" stroke="#858585" stroke-width="0.5"/>
<line x1="531.3" y1="129.28" x2="529.5999999999999" y2="129.28" stroke="#858585" stroke-width="0.5"/>
<text x="326.30" y="131.78" font-size="4.9" fill="#474747" font-weight="normal" text-anchor="end" stroke="#474747" stroke-width="0.1" textLength="11.30" lengthAdjust="spacingAndGlyphs">0.005</text>
<line x1="328.5" y1="111.60" x2="330.2" y2="111.60" stroke="#858585" stroke-width="0.5"/>
<line x1="531.3" y1="111.60" x2="529.5999999999999" y2="111.60" stroke="#858585" stroke-width="0.5"/>
<text x="326.30" y="114.10" font-size="4.9" fill="#474747" font-weight="normal" text-anchor="end" stroke="#474747" stroke-width="0.1" textLength="8.80" lengthAdjust="spacingAndGlyphs">0.01</text>
<text x="429.90" y="213.90" font-size="5.7" fill="#2a2a2a" font-weight="normal" text-anchor="middle" stroke="#2a2a2a" stroke-width="0.1" textLength="16.80" lengthAdjust="spacingAndGlyphs">Time(s)</text>
<text x="311.1" y="155.80" font-size="5.4" fill="#2a2a2a" text-anchor="middle" transform="rotate(-90 311.1 155.80)" textLength="12.2" lengthAdjust="spacingAndGlyphs">Error</text>
<rect x="403.70" y="114.40" width="52.80" height="11.50" fill="#ffffff" />
<text x="405.30" y="122.30" font-size="5.8" fill="#1a1a1a" font-weight="normal" text-anchor="start" stroke="#1a1a1a" stroke-width="0.12" textLength="49.00" lengthAdjust="spacingAndGlyphs">SOC estimation error</text>
<rect x="25.5" y="217.4" width="202.30" height="89.20" fill="none" stroke="#858585" stroke-width="0.75"/>
<line x1="25.50" y1="306.6" x2="25.50" y2="304.90000000000003" stroke="#858585" stroke-width="0.5"/>
<line x1="25.50" y1="217.4" x2="25.50" y2="219.1" stroke="#858585" stroke-width="0.5"/>
<text x="25.50" y="314.20" font-size="4.9" fill="#474747" font-weight="normal" text-anchor="middle" stroke="#474747" stroke-width="0.1" textLength="2.50" lengthAdjust="spacingAndGlyphs">0</text>
<line x1="54.40" y1="306.6" x2="54.40" y2="304.90000000000003" stroke="#858585" stroke-width="0.5"/>
<line x1="54.40" y1="217.4" x2="54.40" y2="219.1" stroke="#858585" stroke-width="0.5"/>
<text x="54.40" y="314.20" font-size="4.9" fill="#474747" font-weight="normal" text-anchor="middle" stroke="#474747" stroke-width="0.1" textLength="10.00" lengthAdjust="spacingAndGlyphs">2000</text>
<line x1="83.30" y1="306.6" x2="83.30" y2="304.90000000000003" stroke="#858585" stroke-width="0.5"/>
<line x1="83.30" y1="217.4" x2="83.30" y2="219.1" stroke="#858585" stroke-width="0.5"/>
<text x="83.30" y="314.20" font-size="4.9" fill="#474747" font-weight="normal" text-anchor="middle" stroke="#474747" stroke-width="0.1" textLength="10.00" lengthAdjust="spacingAndGlyphs">4000</text>
<line x1="112.20" y1="306.6" x2="112.20" y2="304.90000000000003" stroke="#858585" stroke-width="0.5"/>
<line x1="112.20" y1="217.4" x2="112.20" y2="219.1" stroke="#858585" stroke-width="0.5"/>
<text x="112.20" y="314.20" font-size="4.9" fill="#474747" font-weight="normal" text-anchor="middle" stroke="#474747" stroke-width="0.1" textLength="10.00" lengthAdjust="spacingAndGlyphs">6000</text>
<line x1="141.10" y1="306.6" x2="141.10" y2="304.90000000000003" stroke="#858585" stroke-width="0.5"/>
<line x1="141.10" y1="217.4" x2="141.10" y2="219.1" stroke="#858585" stroke-width="0.5"/>
<text x="141.10" y="314.20" font-size="4.9" fill="#474747" font-weight="normal" text-anchor="middle" stroke="#474747" stroke-width="0.1" textLength="10.00" lengthAdjust="spacingAndGlyphs">8000</text>
<line x1="170.00" y1="306.6" x2="170.00" y2="304.90000000000003" stroke="#858585" stroke-width="0.5"/>
<line x1="170.00" y1="217.4" x2="170.00" y2="219.1" stroke="#858585" stroke-width="0.5"/>
<text x="170.00" y="314.20" font-size="4.9" fill="#474747" font-weight="normal" text-anchor="middle" stroke="#474747" stroke-width="0.1" textLength="12.50" lengthAdjust="spacingAndGlyphs">10000</text>
<line x1="198.90" y1="306.6" x2="198.90" y2="304.90000000000003" stroke="#858585" stroke-width="0.5"/>
<line x1="198.90" y1="217.4" x2="198.90" y2="219.1" stroke="#858585" stroke-width="0.5"/>
<text x="198.90" y="314.20" font-size="4.9" fill="#474747" font-weight="normal" text-anchor="middle" stroke="#474747" stroke-width="0.1" textLength="12.50" lengthAdjust="spacingAndGlyphs">12000</text>
<line x1="227.80" y1="306.6" x2="227.80" y2="304.90000000000003" stroke="#858585" stroke-width="0.5"/>
<line x1="227.80" y1="217.4" x2="227.80" y2="219.1" stroke="#858585" stroke-width="0.5"/>
<text x="227.80" y="314.20" font-size="4.9" fill="#474747" font-weight="normal" text-anchor="middle" stroke="#474747" stroke-width="0.1" textLength="12.50" lengthAdjust="spacingAndGlyphs">14000</text>
<line x1="25.5" y1="306.60" x2="27.2" y2="306.60" stroke="#858585" stroke-width="0.5"/>
<line x1="227.8" y1="306.60" x2="226.10000000000002" y2="306.60" stroke="#858585" stroke-width="0.5"/>
<text x="23.30" y="309.10" font-size="4.9" fill="#474747" font-weight="normal" text-anchor="end" stroke="#474747" stroke-width="0.1" textLength="6.30" lengthAdjust="spacingAndGlyphs">3.2</text>
<line x1="25.5" y1="288.76" x2="27.2" y2="288.76" stroke="#858585" stroke-width="0.5"/>
<line x1="227.8" y1="288.76" x2="226.10000000000002" y2="288.76" stroke="#858585" stroke-width="0.5"/>
<text x="23.30" y="291.26" font-size="4.9" fill="#474747" font-weight="normal" text-anchor="end" stroke="#474747" stroke-width="0.1" textLength="6.30" lengthAdjust="spacingAndGlyphs">3.4</text>
<line x1="25.5" y1="270.92" x2="27.2" y2="270.92" stroke="#858585" stroke-width="0.5"/>
<line x1="227.8" y1="270.92" x2="226.10000000000002" y2="270.92" stroke="#858585" stroke-width="0.5"/>
<text x="23.30" y="273.42" font-size="4.9" fill="#474747" font-weight="normal" text-anchor="end" stroke="#474747" stroke-width="0.1" textLength="6.30" lengthAdjust="spacingAndGlyphs">3.6</text>
<line x1="25.5" y1="253.08" x2="27.2" y2="253.08" stroke="#858585" stroke-width="0.5"/>
<line x1="227.8" y1="253.08" x2="226.10000000000002" y2="253.08" stroke="#858585" stroke-width="0.5"/>
<text x="23.30" y="255.58" font-size="4.9" fill="#474747" font-weight="normal" text-anchor="end" stroke="#474747" stroke-width="0.1" textLength="6.30" lengthAdjust="spacingAndGlyphs">3.8</text>
<line x1="25.5" y1="235.24" x2="27.2" y2="235.24" stroke="#858585" stroke-width="0.5"/>
<line x1="227.8" y1="235.24" x2="226.10000000000002" y2="235.24" stroke="#858585" stroke-width="0.5"/>
<text x="23.30" y="237.74" font-size="4.9" fill="#474747" font-weight="normal" text-anchor="end" stroke="#474747" stroke-width="0.1" textLength="2.50" lengthAdjust="spacingAndGlyphs">4</text>
<line x1="25.5" y1="217.40" x2="27.2" y2="217.40" stroke="#858585" stroke-width="0.5"/>
<line x1="227.8" y1="217.40" x2="226.10000000000002" y2="217.40" stroke="#858585" stroke-width="0.5"/>
<text x="23.30" y="219.90" font-size="4.9" fill="#474747" font-weight="normal" text-anchor="end" stroke="#474747" stroke-width="0.1" textLength="6.30" lengthAdjust="spacingAndGlyphs">4.2</text>
<text x="126.65" y="320.50" font-size="5.7" fill="#2a2a2a" font-weight="normal" text-anchor="middle" stroke="#2a2a2a" stroke-width="0.1" textLength="16.80" lengthAdjust="spacingAndGlyphs">Time(s)</text>
<text x="14.9" y="262.00" font-size="5.4" fill="#2a2a2a" text-anchor="middle" transform="rotate(-90 14.9 262.00)" textLength="11.6" lengthAdjust="spacingAndGlyphs">U(V)</text>
<rect x="96.00" y="219.60" width="60.70" height="11.50" fill="#ffffff" />
<text x="97.60" y="227.50" font-size="5.8" fill="#1a1a1a" font-weight="normal" text-anchor="start" stroke="#1a1a1a" stroke-width="0.12" textLength="56.90" lengthAdjust="spacingAndGlyphs">Voltage monitoring curve</text>
<rect x="328.4" y="217.4" width="202.90" height="89.40" fill="none" stroke="#858585" stroke-width="0.75"/>
<line x1="328.40" y1="306.8" x2="328.40" y2="305.1" stroke="#858585" stroke-width="0.5"/>
<line x1="328.40" y1="217.4" x2="328.40" y2="219.1" stroke="#858585" stroke-width="0.5"/>
<text x="328.40" y="314.40" font-size="4.9" fill="#474747" font-weight="normal" text-anchor="middle" stroke="#474747" stroke-width="0.1" textLength="2.50" lengthAdjust="spacingAndGlyphs">0</text>
<line x1="357.39" y1="306.8" x2="357.39" y2="305.1" stroke="#858585" stroke-width="0.5"/>
<line x1="357.39" y1="217.4" x2="357.39" y2="219.1" stroke="#858585" stroke-width="0.5"/>
<text x="357.39" y="314.40" font-size="4.9" fill="#474747" font-weight="normal" text-anchor="middle" stroke="#474747" stroke-width="0.1" textLength="10.00" lengthAdjust="spacingAndGlyphs">2000</text>
<line x1="386.37" y1="306.8" x2="386.37" y2="305.1" stroke="#858585" stroke-width="0.5"/>
<line x1="386.37" y1="217.4" x2="386.37" y2="219.1" stroke="#858585" stroke-width="0.5"/>
<text x="386.37" y="314.40" font-size="4.9" fill="#474747" font-weight="normal" text-anchor="middle" stroke="#474747" stroke-width="0.1" textLength="10.00" lengthAdjust="spacingAndGlyphs">4000</text>
<line x1="415.36" y1="306.8" x2="415.36" y2="305.1" stroke="#858585" stroke-width="0.5"/>
<line x1="415.36" y1="217.4" x2="415.36" y2="219.1" stroke="#858585" stroke-width="0.5"/>
<text x="415.36" y="314.40" font-size="4.9" fill="#474747" font-weight="normal" text-anchor="middle" stroke="#474747" stroke-width="0.1" textLength="10.00" lengthAdjust="spacingAndGlyphs">6000</text>
<line x1="444.34" y1="306.8" x2="444.34" y2="305.1" stroke="#858585" stroke-width="0.5"/>
<line x1="444.34" y1="217.4" x2="444.34" y2="219.1" stroke="#858585" stroke-width="0.5"/>
<text x="444.34" y="314.40" font-size="4.9" fill="#474747" font-weight="normal" text-anchor="middle" stroke="#474747" stroke-width="0.1" textLength="10.00" lengthAdjust="spacingAndGlyphs">8000</text>
<line x1="473.33" y1="306.8" x2="473.33" y2="305.1" stroke="#858585" stroke-width="0.5"/>
<line x1="473.33" y1="217.4" x2="473.33" y2="219.1" stroke="#858585" stroke-width="0.5"/>
<text x="473.33" y="314.40" font-size="4.9" fill="#474747" font-weight="normal" text-anchor="middle" stroke="#474747" stroke-width="0.1" textLength="12.50" lengthAdjust="spacingAndGlyphs">10000</text>
<line x1="502.31" y1="306.8" x2="502.31" y2="305.1" stroke="#858585" stroke-width="0.5"/>
<line x1="502.31" y1="217.4" x2="502.31" y2="219.1" stroke="#858585" stroke-width="0.5"/>
<text x="502.31" y="314.40" font-size="4.9" fill="#474747" font-weight="normal" text-anchor="middle" stroke="#474747" stroke-width="0.1" textLength="12.50" lengthAdjust="spacingAndGlyphs">12000</text>
<line x1="531.30" y1="306.8" x2="531.30" y2="305.1" stroke="#858585" stroke-width="0.5"/>
<line x1="531.30" y1="217.4" x2="531.30" y2="219.1" stroke="#858585" stroke-width="0.5"/>
<text x="531.30" y="314.40" font-size="4.9" fill="#474747" font-weight="normal" text-anchor="middle" stroke="#474747" stroke-width="0.1" textLength="12.50" lengthAdjust="spacingAndGlyphs">14000</text>
<line x1="328.4" y1="306.80" x2="330.09999999999997" y2="306.80" stroke="#858585" stroke-width="0.5"/>
<line x1="531.3" y1="306.80" x2="529.5999999999999" y2="306.80" stroke="#858585" stroke-width="0.5"/>
<text x="326.20" y="309.30" font-size="4.9" fill="#474747" font-weight="normal" text-anchor="end" stroke="#474747" stroke-width="0.1" textLength="4.15" lengthAdjust="spacingAndGlyphs">-2</text>
<line x1="328.4" y1="294.03" x2="330.09999999999997" y2="294.03" stroke="#858585" stroke-width="0.5"/>
<line x1="531.3" y1="294.03" x2="529.5999999999999" y2="294.03" stroke="#858585" stroke-width="0.5"/>
<text x="326.20" y="296.53" font-size="4.9" fill="#474747" font-weight="normal" text-anchor="end" stroke="#474747" stroke-width="0.1" textLength="4.15" lengthAdjust="spacingAndGlyphs">-1</text>
<line x1="328.4" y1="281.26" x2="330.09999999999997" y2="281.26" stroke="#858585" stroke-width="0.5"/>
<line x1="531.3" y1="281.26" x2="529.5999999999999" y2="281.26" stroke="#858585" stroke-width="0.5"/>
<text x="326.20" y="283.76" font-size="4.9" fill="#474747" font-weight="normal" text-anchor="end" stroke="#474747" stroke-width="0.1" textLength="2.50" lengthAdjust="spacingAndGlyphs">0</text>
<line x1="328.4" y1="268.49" x2="330.09999999999997" y2="268.49" stroke="#858585" stroke-width="0.5"/>
<line x1="531.3" y1="268.49" x2="529.5999999999999" y2="268.49" stroke="#858585" stroke-width="0.5"/>
<text x="326.20" y="270.99" font-size="4.9" fill="#474747" font-weight="normal" text-anchor="end" stroke="#474747" stroke-width="0.1" textLength="2.50" lengthAdjust="spacingAndGlyphs">1</text>
<line x1="328.4" y1="255.71" x2="330.09999999999997" y2="255.71" stroke="#858585" stroke-width="0.5"/>
<line x1="531.3" y1="255.71" x2="529.5999999999999" y2="255.71" stroke="#858585" stroke-width="0.5"/>
<text x="326.20" y="258.21" font-size="4.9" fill="#474747" font-weight="normal" text-anchor="end" stroke="#474747" stroke-width="0.1" textLength="2.50" lengthAdjust="spacingAndGlyphs">2</text>
<line x1="328.4" y1="242.94" x2="330.09999999999997" y2="242.94" stroke="#858585" stroke-width="0.5"/>
<line x1="531.3" y1="242.94" x2="529.5999999999999" y2="242.94" stroke="#858585" stroke-width="0.5"/>
<text x="326.20" y="245.44" font-size="4.9" fill="#474747" font-weight="normal" text-anchor="end" stroke="#474747" stroke-width="0.1" textLength="2.50" lengthAdjust="spacingAndGlyphs">3</text>
<line x1="328.4" y1="230.17" x2="330.09999999999997" y2="230.17" stroke="#858585" stroke-width="0.5"/>
<line x1="531.3" y1="230.17" x2="529.5999999999999" y2="230.17" stroke="#858585" stroke-width="0.5"/>
<text x="326.20" y="232.67" font-size="4.9" fill="#474747" font-weight="normal" text-anchor="end" stroke="#474747" stroke-width="0.1" textLength="2.50" lengthAdjust="spacingAndGlyphs">4</text>
<line x1="328.4" y1="217.40" x2="330.09999999999997" y2="217.40" stroke="#858585" stroke-width="0.5"/>
<line x1="531.3" y1="217.40" x2="529.5999999999999" y2="217.40" stroke="#858585" stroke-width="0.5"/>
<text x="326.20" y="219.90" font-size="4.9" fill="#474747" font-weight="normal" text-anchor="end" stroke="#474747" stroke-width="0.1" textLength="2.50" lengthAdjust="spacingAndGlyphs">5</text>
<text x="429.85" y="320.70" font-size="5.7" fill="#2a2a2a" font-weight="normal" text-anchor="middle" stroke="#2a2a2a" stroke-width="0.1" textLength="16.80" lengthAdjust="spacingAndGlyphs">Time(s)</text>
<text x="320.9" y="262.10" font-size="5.4" fill="#2a2a2a" text-anchor="middle" transform="rotate(-90 320.9 262.10)" textLength="8.8" lengthAdjust="spacingAndGlyphs">I(A)</text>
<rect x="399.30" y="219.60" width="60.90" height="11.50" fill="#ffffff" />
<text x="400.90" y="227.50" font-size="5.8" fill="#1a1a1a" font-weight="normal" text-anchor="start" stroke="#1a1a1a" stroke-width="0.12" textLength="57.10" lengthAdjust="spacingAndGlyphs">Current monitoring curve</text>
<rect x="178.20" y="115.50" width="45.80" height="12.60" fill="#ffffff" stroke="#6a6a6a" stroke-width="0.5"/>
<line x1="180" y1="118.8" x2="192" y2="118.8" stroke="#ff9090" stroke-width="0.9"/>
<line x1="180" y1="124.6" x2="192" y2="124.6" stroke="#8a8ae8" stroke-width="0.9"/>
<text x="194.20" y="121.00" font-size="4.7" fill="#333" font-weight="normal" text-anchor="start"  textLength="28.50" lengthAdjust="spacingAndGlyphs">Reference SOC</text>
<text x="194.20" y="127.00" font-size="4.7" fill="#333" font-weight="normal" text-anchor="start" >EKF</text>
<rect x="0.00" y="321.60" width="550.00" height="8.40" fill="#ffffff" /></svg>
</body></html>
